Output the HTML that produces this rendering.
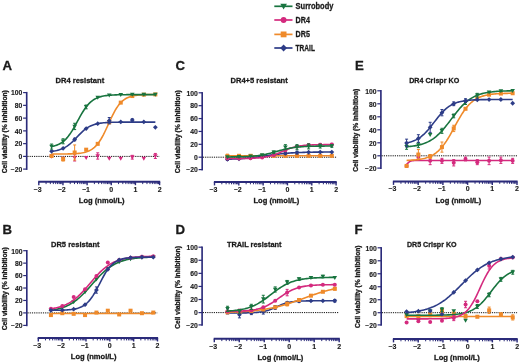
<!DOCTYPE html>
<html><head><meta charset="utf-8"><style>
html,body{margin:0;padding:0;background:#fff;overflow:hidden;width:520px;height:362px;}
svg{display:block;will-change:transform;filter:blur(0.3px);}
text{font-family:"Liberation Sans", sans-serif;font-weight:bold;fill:#1a1a1a;stroke:#1a1a1a;stroke-width:0.3px;}
</style></head><body>
<svg width="520" height="362" viewBox="0 0 520 362">
<rect width="520" height="362" fill="#fff"/>
<line x1="274.3" y1="6.3" x2="292.5" y2="6.3" stroke="#18743f" stroke-width="1.7"/>
<path d="M280.27,3.69L286.94,3.69L283.60,9.49Z" fill="#18743f"/>
<text x="295.60" y="8.50" font-size="8.3" text-anchor="start" textLength="37.8" lengthAdjust="spacingAndGlyphs" >Surrobody</text>
<line x1="274.3" y1="20.0" x2="292.5" y2="20.0" stroke="#d42a7e" stroke-width="1.7"/>
<circle cx="283.60" cy="20.00" r="2.90" fill="#d42a7e"/>
<text x="295.60" y="22.60" font-size="8.3" text-anchor="start" textLength="14.3" lengthAdjust="spacingAndGlyphs" >DR4</text>
<line x1="274.3" y1="34.4" x2="292.5" y2="34.4" stroke="#ef8a2a" stroke-width="1.7"/>
<rect x="280.70" y="31.50" width="5.80" height="5.80" fill="#ef8a2a"/>
<text x="295.60" y="36.90" font-size="8.3" text-anchor="start" textLength="14.3" lengthAdjust="spacingAndGlyphs" >DR5</text>
<line x1="274.3" y1="48.0" x2="292.5" y2="48.0" stroke="#2d3c87" stroke-width="1.7"/>
<path d="M283.60,44.52L287.08,48.00L283.60,51.48L280.12,48.00Z" fill="#2d3c87"/>
<text x="295.60" y="51.00" font-size="8.3" text-anchor="start" textLength="19.3" lengthAdjust="spacingAndGlyphs" >TRAIL</text>
<text x="2.60" y="69.90" font-size="13.2" text-anchor="start" font-weight="bold">A</text>
<text x="55.50" y="82.80" font-size="8.1" text-anchor="start" textLength="48.7" lengthAdjust="spacingAndGlyphs" >DR4 resistant</text>
<text x="0" y="0" font-size="7" text-anchor="middle" textLength="83" lengthAdjust="spacingAndGlyphs" transform="translate(6.60,131.70) rotate(-90)">Cell viability (% inhibition)</text>
<line x1="26.7" y1="91.90" x2="26.7" y2="169.90" stroke="#2b2b7a" stroke-width="1.65"/>
<line x1="23.10" y1="169.10" x2="26.7" y2="169.10" stroke="#2b2b7a" stroke-width="1.2"/>
<text x="22.40" y="171.90" font-size="6.8" text-anchor="end" style="stroke-width:0.12px">&#8722;20</text>
<line x1="23.10" y1="156.40" x2="26.7" y2="156.40" stroke="#2b2b7a" stroke-width="1.2"/>
<text x="22.40" y="159.20" font-size="6.8" text-anchor="end" style="stroke-width:0.12px">0</text>
<line x1="23.10" y1="143.64" x2="26.7" y2="143.64" stroke="#2b2b7a" stroke-width="1.2"/>
<text x="22.40" y="146.44" font-size="6.8" text-anchor="end" style="stroke-width:0.12px">20</text>
<line x1="23.10" y1="130.88" x2="26.7" y2="130.88" stroke="#2b2b7a" stroke-width="1.2"/>
<text x="22.40" y="133.68" font-size="6.8" text-anchor="end" style="stroke-width:0.12px">40</text>
<line x1="23.10" y1="118.12" x2="26.7" y2="118.12" stroke="#2b2b7a" stroke-width="1.2"/>
<text x="22.40" y="120.92" font-size="6.8" text-anchor="end" style="stroke-width:0.12px">60</text>
<line x1="23.10" y1="105.36" x2="26.7" y2="105.36" stroke="#2b2b7a" stroke-width="1.2"/>
<text x="22.40" y="108.16" font-size="6.8" text-anchor="end" style="stroke-width:0.12px">80</text>
<line x1="23.10" y1="92.60" x2="26.7" y2="92.60" stroke="#2b2b7a" stroke-width="1.2"/>
<text x="22.40" y="95.40" font-size="6.8" text-anchor="end" style="stroke-width:0.12px">100</text>
<line x1="38.20" y1="181.8" x2="160.20" y2="181.8" stroke="#2b2b7a" stroke-width="2.0"/>
<line x1="46.07" y1="181.8" x2="46.07" y2="184.10" stroke="#2b2b7a" stroke-width="1.0"/>
<line x1="50.33" y1="181.8" x2="50.33" y2="184.10" stroke="#2b2b7a" stroke-width="1.0"/>
<line x1="53.35" y1="181.8" x2="53.35" y2="184.10" stroke="#2b2b7a" stroke-width="1.0"/>
<line x1="55.69" y1="181.8" x2="55.69" y2="184.10" stroke="#2b2b7a" stroke-width="1.0"/>
<line x1="57.60" y1="181.8" x2="57.60" y2="184.10" stroke="#2b2b7a" stroke-width="1.0"/>
<line x1="59.22" y1="181.8" x2="59.22" y2="184.10" stroke="#2b2b7a" stroke-width="1.0"/>
<line x1="60.62" y1="181.8" x2="60.62" y2="184.10" stroke="#2b2b7a" stroke-width="1.0"/>
<line x1="61.85" y1="181.8" x2="61.85" y2="184.10" stroke="#2b2b7a" stroke-width="1.0"/>
<line x1="70.23" y1="181.8" x2="70.23" y2="184.10" stroke="#2b2b7a" stroke-width="1.0"/>
<line x1="74.49" y1="181.8" x2="74.49" y2="184.10" stroke="#2b2b7a" stroke-width="1.0"/>
<line x1="77.51" y1="181.8" x2="77.51" y2="184.10" stroke="#2b2b7a" stroke-width="1.0"/>
<line x1="79.85" y1="181.8" x2="79.85" y2="184.10" stroke="#2b2b7a" stroke-width="1.0"/>
<line x1="81.76" y1="181.8" x2="81.76" y2="184.10" stroke="#2b2b7a" stroke-width="1.0"/>
<line x1="83.38" y1="181.8" x2="83.38" y2="184.10" stroke="#2b2b7a" stroke-width="1.0"/>
<line x1="84.78" y1="181.8" x2="84.78" y2="184.10" stroke="#2b2b7a" stroke-width="1.0"/>
<line x1="86.01" y1="181.8" x2="86.01" y2="184.10" stroke="#2b2b7a" stroke-width="1.0"/>
<line x1="94.39" y1="181.8" x2="94.39" y2="184.10" stroke="#2b2b7a" stroke-width="1.0"/>
<line x1="98.65" y1="181.8" x2="98.65" y2="184.10" stroke="#2b2b7a" stroke-width="1.0"/>
<line x1="101.67" y1="181.8" x2="101.67" y2="184.10" stroke="#2b2b7a" stroke-width="1.0"/>
<line x1="104.01" y1="181.8" x2="104.01" y2="184.10" stroke="#2b2b7a" stroke-width="1.0"/>
<line x1="105.92" y1="181.8" x2="105.92" y2="184.10" stroke="#2b2b7a" stroke-width="1.0"/>
<line x1="107.54" y1="181.8" x2="107.54" y2="184.10" stroke="#2b2b7a" stroke-width="1.0"/>
<line x1="108.94" y1="181.8" x2="108.94" y2="184.10" stroke="#2b2b7a" stroke-width="1.0"/>
<line x1="110.17" y1="181.8" x2="110.17" y2="184.10" stroke="#2b2b7a" stroke-width="1.0"/>
<line x1="118.55" y1="181.8" x2="118.55" y2="184.10" stroke="#2b2b7a" stroke-width="1.0"/>
<line x1="122.81" y1="181.8" x2="122.81" y2="184.10" stroke="#2b2b7a" stroke-width="1.0"/>
<line x1="125.83" y1="181.8" x2="125.83" y2="184.10" stroke="#2b2b7a" stroke-width="1.0"/>
<line x1="128.17" y1="181.8" x2="128.17" y2="184.10" stroke="#2b2b7a" stroke-width="1.0"/>
<line x1="130.08" y1="181.8" x2="130.08" y2="184.10" stroke="#2b2b7a" stroke-width="1.0"/>
<line x1="131.70" y1="181.8" x2="131.70" y2="184.10" stroke="#2b2b7a" stroke-width="1.0"/>
<line x1="133.10" y1="181.8" x2="133.10" y2="184.10" stroke="#2b2b7a" stroke-width="1.0"/>
<line x1="134.33" y1="181.8" x2="134.33" y2="184.10" stroke="#2b2b7a" stroke-width="1.0"/>
<line x1="142.71" y1="181.8" x2="142.71" y2="184.10" stroke="#2b2b7a" stroke-width="1.0"/>
<line x1="146.97" y1="181.8" x2="146.97" y2="184.10" stroke="#2b2b7a" stroke-width="1.0"/>
<line x1="149.99" y1="181.8" x2="149.99" y2="184.10" stroke="#2b2b7a" stroke-width="1.0"/>
<line x1="152.33" y1="181.8" x2="152.33" y2="184.10" stroke="#2b2b7a" stroke-width="1.0"/>
<line x1="154.24" y1="181.8" x2="154.24" y2="184.10" stroke="#2b2b7a" stroke-width="1.0"/>
<line x1="155.86" y1="181.8" x2="155.86" y2="184.10" stroke="#2b2b7a" stroke-width="1.0"/>
<line x1="157.26" y1="181.8" x2="157.26" y2="184.10" stroke="#2b2b7a" stroke-width="1.0"/>
<line x1="158.49" y1="181.8" x2="158.49" y2="184.10" stroke="#2b2b7a" stroke-width="1.0"/>
<line x1="38.80" y1="181.8" x2="38.80" y2="185.20" stroke="#2b2b7a" stroke-width="1.4"/>
<text x="37.60" y="191.60" font-size="7.0" text-anchor="middle" style="stroke-width:0.12px">&#8722;3</text>
<line x1="62.96" y1="181.8" x2="62.96" y2="185.20" stroke="#2b2b7a" stroke-width="1.4"/>
<text x="61.76" y="191.60" font-size="7.0" text-anchor="middle" style="stroke-width:0.12px">&#8722;2</text>
<line x1="87.12" y1="181.8" x2="87.12" y2="185.20" stroke="#2b2b7a" stroke-width="1.4"/>
<text x="85.92" y="191.60" font-size="7.0" text-anchor="middle" style="stroke-width:0.12px">&#8722;1</text>
<line x1="111.28" y1="181.8" x2="111.28" y2="185.20" stroke="#2b2b7a" stroke-width="1.4"/>
<text x="111.28" y="191.60" font-size="7.0" text-anchor="middle" style="stroke-width:0.12px">0</text>
<line x1="135.44" y1="181.8" x2="135.44" y2="185.20" stroke="#2b2b7a" stroke-width="1.4"/>
<text x="135.44" y="191.60" font-size="7.0" text-anchor="middle" style="stroke-width:0.12px">1</text>
<line x1="159.60" y1="181.8" x2="159.60" y2="185.20" stroke="#2b2b7a" stroke-width="1.4"/>
<text x="159.60" y="191.60" font-size="7.0" text-anchor="middle" style="stroke-width:0.12px">2</text>
<text x="78.80" y="202.90" font-size="7.5" text-anchor="start" textLength="45.8" lengthAdjust="spacingAndGlyphs" >Log (nmol/L)</text>
<line x1="27.40" y1="156.40" x2="159.60" y2="156.40" stroke="#111" stroke-width="1.0" stroke-dasharray="1.2,1.0"/>
<path d="M49.30,154.80L53.90,154.80L51.60,158.80Z" fill="#d42a7e"/>
<path d="M60.83,156.69L65.43,156.69L63.13,160.69Z" fill="#d42a7e"/>
<path d="M74.65,154.71V161.01M73.15,154.71H76.15M73.15,161.01H76.15" stroke="#d42a7e" stroke-width="1.0" fill="none"/>
<path d="M72.35,156.06L76.95,156.06L74.65,160.06Z" fill="#d42a7e"/>
<path d="M83.88,156.06L88.48,156.06L86.18,160.06Z" fill="#d42a7e"/>
<path d="M97.71,152.82V159.12M96.21,152.82H99.21M96.21,159.12H99.21" stroke="#d42a7e" stroke-width="1.0" fill="none"/>
<path d="M95.41,154.17L100.01,154.17L97.71,158.17Z" fill="#d42a7e"/>
<path d="M106.94,156.69L111.54,156.69L109.24,160.69Z" fill="#d42a7e"/>
<path d="M118.46,156.69L123.06,156.69L120.76,160.69Z" fill="#d42a7e"/>
<path d="M132.29,155.34V159.12M130.79,155.34H133.79M130.79,159.12H133.79" stroke="#d42a7e" stroke-width="1.0" fill="none"/>
<path d="M129.99,155.43L134.59,155.43L132.29,159.43Z" fill="#d42a7e"/>
<path d="M141.52,156.69L146.12,156.69L143.82,160.69Z" fill="#d42a7e"/>
<path d="M155.35,153.45V158.49M153.85,153.45H156.85M153.85,158.49H156.85" stroke="#d42a7e" stroke-width="1.0" fill="none"/>
<path d="M153.05,154.17L157.65,154.17L155.35,158.17Z" fill="#d42a7e"/>
<path d="M51.60,154.07 L52.90,154.06 L54.19,154.06 L55.49,154.06 L56.79,154.05 L58.08,154.04 L59.38,154.04 L60.68,154.03 L61.97,154.02 L63.27,154.00 L64.57,153.99 L65.87,153.97 L67.16,153.94 L68.46,153.92 L69.76,153.88 L71.05,153.84 L72.35,153.79 L73.65,153.73 L74.94,153.66 L76.24,153.57 L77.54,153.46 L78.83,153.33 L80.13,153.17 L81.43,152.99 L82.72,152.76 L84.02,152.49 L85.32,152.16 L86.61,151.78 L87.91,151.31 L89.21,150.76 L90.50,150.10 L91.80,149.33 L93.10,148.42 L94.40,147.36 L95.69,146.13 L96.99,144.72 L98.29,143.11 L99.58,141.29 L100.88,139.26 L102.18,137.02 L103.47,134.59 L104.77,132.00 L106.07,129.27 L107.36,126.46 L108.66,123.60 L109.96,120.76 L111.25,117.97 L112.55,115.30 L113.85,112.78 L115.14,110.43 L116.44,108.28 L117.74,106.34 L119.03,104.61 L120.33,103.08 L121.63,101.75 L122.93,100.60 L124.22,99.60 L125.52,98.76 L126.82,98.04 L128.11,97.43 L129.41,96.91 L130.71,96.48 L132.00,96.12 L133.30,95.82 L134.60,95.57 L135.89,95.36 L137.19,95.19 L138.49,95.05 L139.78,94.93 L141.08,94.83 L142.38,94.75 L143.67,94.68 L144.97,94.62 L146.27,94.58 L147.56,94.54 L148.86,94.51 L150.16,94.48 L151.46,94.46 L152.75,94.44 L154.05,94.43 L155.35,94.41" fill="none" stroke="#ef8a2a" stroke-width="1.6"/>
<rect x="49.60" y="153.97" width="4.00" height="4.00" fill="#ef8a2a"/>
<path d="M63.13,157.23V161.01M61.63,157.23H64.63M61.63,161.01H64.63" stroke="#ef8a2a" stroke-width="1.0" fill="none"/>
<rect x="61.13" y="157.12" width="4.00" height="4.00" fill="#ef8a2a"/>
<path d="M74.65,144.94V160.06M73.15,144.94H76.15M73.15,160.06H76.15" stroke="#ef8a2a" stroke-width="1.0" fill="none"/>
<rect x="72.65" y="150.50" width="4.00" height="4.00" fill="#ef8a2a"/>
<rect x="84.18" y="147.67" width="4.00" height="4.00" fill="#ef8a2a"/>
<rect x="95.71" y="141.85" width="4.00" height="4.00" fill="#ef8a2a"/>
<rect x="107.24" y="120.33" width="4.00" height="4.00" fill="#ef8a2a"/>
<rect x="118.76" y="100.62" width="4.00" height="4.00" fill="#ef8a2a"/>
<rect x="130.29" y="94.05" width="4.00" height="4.00" fill="#ef8a2a"/>
<rect x="141.82" y="92.67" width="4.00" height="4.00" fill="#ef8a2a"/>
<rect x="153.35" y="92.41" width="4.00" height="4.00" fill="#ef8a2a"/>
<path d="M51.60,151.29 L52.90,151.13 L54.19,150.94 L55.49,150.71 L56.79,150.45 L58.08,150.14 L59.38,149.77 L60.68,149.35 L61.97,148.85 L63.27,148.28 L64.57,147.63 L65.87,146.89 L67.16,146.06 L68.46,145.13 L69.76,144.11 L71.05,143.00 L72.35,141.80 L73.65,140.54 L74.94,139.22 L76.24,137.87 L77.54,136.51 L78.83,135.15 L80.13,133.83 L81.43,132.56 L82.72,131.36 L84.02,130.23 L85.32,129.20 L86.61,128.26 L87.91,127.41 L89.21,126.66 L90.50,126.00 L91.80,125.42 L93.10,124.92 L94.40,124.48 L95.69,124.11 L96.99,123.79 L98.29,123.52 L99.58,123.29 L100.88,123.10 L102.18,122.93 L103.47,122.79 L104.77,122.68 L106.07,122.58 L107.36,122.50 L108.66,122.43 L109.96,122.37 L111.25,122.32 L112.55,122.28 L113.85,122.25 L115.14,122.22 L116.44,122.19 L117.74,122.18 L119.03,122.16 L120.33,122.14 L121.63,122.13 L122.93,122.12 L124.22,122.12 L125.52,122.11 L126.82,122.10 L128.11,122.10 L129.41,122.10 L130.71,122.09 L132.00,122.09 L133.30,122.09 L134.60,122.09 L135.89,122.08 L137.19,122.08 L138.49,122.08 L139.78,122.08 L141.08,122.08 L142.38,122.08 L143.67,122.08 L144.97,122.08 L146.27,122.08 L147.56,122.08 L148.86,122.08 L150.16,122.08 L151.46,122.08 L152.75,122.08 L154.05,122.08 L155.35,122.08" fill="none" stroke="#2d3c87" stroke-width="1.6"/>
<path d="M51.60,148.89L54.00,151.29L51.60,153.69L49.20,151.29Z" fill="#2d3c87"/>
<path d="M63.13,145.95L65.53,148.35L63.13,150.75L60.73,148.35Z" fill="#2d3c87"/>
<path d="M74.65,138.26V140.78M73.15,138.26H76.15M73.15,140.78H76.15" stroke="#2d3c87" stroke-width="1.0" fill="none"/>
<path d="M74.65,137.12L77.05,139.52L74.65,141.92L72.25,139.52Z" fill="#2d3c87"/>
<path d="M86.18,126.16L88.58,128.56L86.18,130.96L83.78,128.56Z" fill="#2d3c87"/>
<path d="M97.71,121.24L100.11,123.64L97.71,126.04L95.31,123.64Z" fill="#2d3c87"/>
<path d="M109.24,117.54V123.84M107.74,117.54H110.74M107.74,123.84H110.74" stroke="#2d3c87" stroke-width="1.0" fill="none"/>
<path d="M109.24,118.29L111.64,120.69L109.24,123.09L106.84,120.69Z" fill="#2d3c87"/>
<path d="M120.76,119.55L123.16,121.95L120.76,124.35L118.36,121.95Z" fill="#2d3c87"/>
<path d="M132.29,118.80V121.32M130.79,118.80H133.79M130.79,121.32H133.79" stroke="#2d3c87" stroke-width="1.0" fill="none"/>
<path d="M132.29,117.66L134.69,120.06L132.29,122.46L129.89,120.06Z" fill="#2d3c87"/>
<path d="M143.82,119.55L146.22,121.95L143.82,124.35L141.42,121.95Z" fill="#2d3c87"/>
<path d="M155.35,124.97L157.75,127.37L155.35,129.77L152.95,127.37Z" fill="#2d3c87"/>
<path d="M51.60,146.57 L52.90,146.30 L54.19,145.97 L55.49,145.58 L56.79,145.13 L58.08,144.59 L59.38,143.97 L60.68,143.25 L61.97,142.40 L63.27,141.44 L64.57,140.33 L65.87,139.07 L67.16,137.65 L68.46,136.07 L69.76,134.33 L71.05,132.42 L72.35,130.37 L73.65,128.19 L74.94,125.91 L76.24,123.56 L77.54,121.17 L78.83,118.79 L80.13,116.44 L81.43,114.17 L82.72,112.00 L84.02,109.97 L85.32,108.09 L86.61,106.36 L87.91,104.80 L89.21,103.40 L90.50,102.17 L91.80,101.08 L93.10,100.12 L94.40,99.30 L95.69,98.59 L96.99,97.97 L98.29,97.45 L99.58,97.01 L100.88,96.63 L102.18,96.31 L103.47,96.04 L104.77,95.81 L106.07,95.61 L107.36,95.45 L108.66,95.31 L109.96,95.20 L111.25,95.10 L112.55,95.02 L113.85,94.96 L115.14,94.90 L116.44,94.85 L117.74,94.81 L119.03,94.78 L120.33,94.75 L121.63,94.73 L122.93,94.71 L124.22,94.69 L125.52,94.68 L126.82,94.67 L128.11,94.66 L129.41,94.65 L130.71,94.64 L132.00,94.64 L133.30,94.63 L134.60,94.63 L135.89,94.62 L137.19,94.62 L138.49,94.62 L139.78,94.62 L141.08,94.62 L142.38,94.61 L143.67,94.61 L144.97,94.61 L146.27,94.61 L147.56,94.61 L148.86,94.61 L150.16,94.61 L151.46,94.61 L152.75,94.61 L154.05,94.61 L155.35,94.61" fill="none" stroke="#18743f" stroke-width="1.6"/>
<path d="M51.60,144.06V149.10M50.10,144.06H53.10M50.10,149.10H53.10" stroke="#18743f" stroke-width="1.0" fill="none"/>
<path d="M49.30,144.78L53.90,144.78L51.60,148.78Z" fill="#18743f"/>
<path d="M63.13,138.77V143.81M61.63,138.77H64.63M61.63,143.81H64.63" stroke="#18743f" stroke-width="1.0" fill="none"/>
<path d="M60.83,139.49L65.43,139.49L63.13,143.49Z" fill="#18743f"/>
<path d="M74.65,123.28V129.58M73.15,123.28H76.15M73.15,129.58H76.15" stroke="#18743f" stroke-width="1.0" fill="none"/>
<path d="M72.35,124.63L76.95,124.63L74.65,128.63Z" fill="#18743f"/>
<path d="M86.18,105.03V108.81M84.68,105.03H87.68M84.68,108.81H87.68" stroke="#18743f" stroke-width="1.0" fill="none"/>
<path d="M83.88,105.12L88.48,105.12L86.18,109.12Z" fill="#18743f"/>
<path d="M95.41,95.87L100.01,95.87L97.71,99.87Z" fill="#18743f"/>
<path d="M106.94,93.46L111.54,93.46L109.24,97.46Z" fill="#18743f"/>
<path d="M118.46,92.94L123.06,92.94L120.76,96.94Z" fill="#18743f"/>
<path d="M129.99,92.84L134.59,92.84L132.29,96.84Z" fill="#18743f"/>
<path d="M141.52,92.81L146.12,92.81L143.82,96.81Z" fill="#18743f"/>
<path d="M153.05,92.81L157.65,92.81L155.35,96.81Z" fill="#18743f"/>
<text x="175.60" y="70.10" font-size="13.2" text-anchor="start" font-weight="bold">C</text>
<text x="230.50" y="82.90" font-size="8.1" text-anchor="start" textLength="57.2" lengthAdjust="spacingAndGlyphs" >DR4+5 resistant</text>
<text x="0" y="0" font-size="7" text-anchor="middle" textLength="83" lengthAdjust="spacingAndGlyphs" transform="translate(180.30,131.75) rotate(-90)">Cell viability (% inhibition)</text>
<line x1="202.2" y1="92.10" x2="202.2" y2="170.40" stroke="#2b2b7a" stroke-width="1.65"/>
<line x1="198.60" y1="169.60" x2="202.2" y2="169.60" stroke="#2b2b7a" stroke-width="1.2"/>
<text x="197.90" y="172.40" font-size="6.8" text-anchor="end" style="stroke-width:0.12px">&#8722;20</text>
<line x1="198.60" y1="157.20" x2="202.2" y2="157.20" stroke="#2b2b7a" stroke-width="1.2"/>
<text x="197.90" y="160.00" font-size="6.8" text-anchor="end" style="stroke-width:0.12px">0</text>
<line x1="198.60" y1="144.32" x2="202.2" y2="144.32" stroke="#2b2b7a" stroke-width="1.2"/>
<text x="197.90" y="147.12" font-size="6.8" text-anchor="end" style="stroke-width:0.12px">20</text>
<line x1="198.60" y1="131.44" x2="202.2" y2="131.44" stroke="#2b2b7a" stroke-width="1.2"/>
<text x="197.90" y="134.24" font-size="6.8" text-anchor="end" style="stroke-width:0.12px">40</text>
<line x1="198.60" y1="118.56" x2="202.2" y2="118.56" stroke="#2b2b7a" stroke-width="1.2"/>
<text x="197.90" y="121.36" font-size="6.8" text-anchor="end" style="stroke-width:0.12px">60</text>
<line x1="198.60" y1="105.68" x2="202.2" y2="105.68" stroke="#2b2b7a" stroke-width="1.2"/>
<text x="197.90" y="108.48" font-size="6.8" text-anchor="end" style="stroke-width:0.12px">80</text>
<line x1="198.60" y1="92.80" x2="202.2" y2="92.80" stroke="#2b2b7a" stroke-width="1.2"/>
<text x="197.90" y="95.60" font-size="6.8" text-anchor="end" style="stroke-width:0.12px">100</text>
<line x1="213.90" y1="182.0" x2="336.70" y2="182.0" stroke="#2b2b7a" stroke-width="2.0"/>
<line x1="221.82" y1="182.0" x2="221.82" y2="184.30" stroke="#2b2b7a" stroke-width="1.0"/>
<line x1="226.10" y1="182.0" x2="226.10" y2="184.30" stroke="#2b2b7a" stroke-width="1.0"/>
<line x1="229.14" y1="182.0" x2="229.14" y2="184.30" stroke="#2b2b7a" stroke-width="1.0"/>
<line x1="231.50" y1="182.0" x2="231.50" y2="184.30" stroke="#2b2b7a" stroke-width="1.0"/>
<line x1="233.42" y1="182.0" x2="233.42" y2="184.30" stroke="#2b2b7a" stroke-width="1.0"/>
<line x1="235.05" y1="182.0" x2="235.05" y2="184.30" stroke="#2b2b7a" stroke-width="1.0"/>
<line x1="236.46" y1="182.0" x2="236.46" y2="184.30" stroke="#2b2b7a" stroke-width="1.0"/>
<line x1="237.71" y1="182.0" x2="237.71" y2="184.30" stroke="#2b2b7a" stroke-width="1.0"/>
<line x1="246.14" y1="182.0" x2="246.14" y2="184.30" stroke="#2b2b7a" stroke-width="1.0"/>
<line x1="250.42" y1="182.0" x2="250.42" y2="184.30" stroke="#2b2b7a" stroke-width="1.0"/>
<line x1="253.46" y1="182.0" x2="253.46" y2="184.30" stroke="#2b2b7a" stroke-width="1.0"/>
<line x1="255.82" y1="182.0" x2="255.82" y2="184.30" stroke="#2b2b7a" stroke-width="1.0"/>
<line x1="257.74" y1="182.0" x2="257.74" y2="184.30" stroke="#2b2b7a" stroke-width="1.0"/>
<line x1="259.37" y1="182.0" x2="259.37" y2="184.30" stroke="#2b2b7a" stroke-width="1.0"/>
<line x1="260.78" y1="182.0" x2="260.78" y2="184.30" stroke="#2b2b7a" stroke-width="1.0"/>
<line x1="262.03" y1="182.0" x2="262.03" y2="184.30" stroke="#2b2b7a" stroke-width="1.0"/>
<line x1="270.46" y1="182.0" x2="270.46" y2="184.30" stroke="#2b2b7a" stroke-width="1.0"/>
<line x1="274.74" y1="182.0" x2="274.74" y2="184.30" stroke="#2b2b7a" stroke-width="1.0"/>
<line x1="277.78" y1="182.0" x2="277.78" y2="184.30" stroke="#2b2b7a" stroke-width="1.0"/>
<line x1="280.14" y1="182.0" x2="280.14" y2="184.30" stroke="#2b2b7a" stroke-width="1.0"/>
<line x1="282.06" y1="182.0" x2="282.06" y2="184.30" stroke="#2b2b7a" stroke-width="1.0"/>
<line x1="283.69" y1="182.0" x2="283.69" y2="184.30" stroke="#2b2b7a" stroke-width="1.0"/>
<line x1="285.10" y1="182.0" x2="285.10" y2="184.30" stroke="#2b2b7a" stroke-width="1.0"/>
<line x1="286.35" y1="182.0" x2="286.35" y2="184.30" stroke="#2b2b7a" stroke-width="1.0"/>
<line x1="294.78" y1="182.0" x2="294.78" y2="184.30" stroke="#2b2b7a" stroke-width="1.0"/>
<line x1="299.06" y1="182.0" x2="299.06" y2="184.30" stroke="#2b2b7a" stroke-width="1.0"/>
<line x1="302.10" y1="182.0" x2="302.10" y2="184.30" stroke="#2b2b7a" stroke-width="1.0"/>
<line x1="304.46" y1="182.0" x2="304.46" y2="184.30" stroke="#2b2b7a" stroke-width="1.0"/>
<line x1="306.38" y1="182.0" x2="306.38" y2="184.30" stroke="#2b2b7a" stroke-width="1.0"/>
<line x1="308.01" y1="182.0" x2="308.01" y2="184.30" stroke="#2b2b7a" stroke-width="1.0"/>
<line x1="309.42" y1="182.0" x2="309.42" y2="184.30" stroke="#2b2b7a" stroke-width="1.0"/>
<line x1="310.67" y1="182.0" x2="310.67" y2="184.30" stroke="#2b2b7a" stroke-width="1.0"/>
<line x1="319.10" y1="182.0" x2="319.10" y2="184.30" stroke="#2b2b7a" stroke-width="1.0"/>
<line x1="323.38" y1="182.0" x2="323.38" y2="184.30" stroke="#2b2b7a" stroke-width="1.0"/>
<line x1="326.42" y1="182.0" x2="326.42" y2="184.30" stroke="#2b2b7a" stroke-width="1.0"/>
<line x1="328.78" y1="182.0" x2="328.78" y2="184.30" stroke="#2b2b7a" stroke-width="1.0"/>
<line x1="330.70" y1="182.0" x2="330.70" y2="184.30" stroke="#2b2b7a" stroke-width="1.0"/>
<line x1="332.33" y1="182.0" x2="332.33" y2="184.30" stroke="#2b2b7a" stroke-width="1.0"/>
<line x1="333.74" y1="182.0" x2="333.74" y2="184.30" stroke="#2b2b7a" stroke-width="1.0"/>
<line x1="334.99" y1="182.0" x2="334.99" y2="184.30" stroke="#2b2b7a" stroke-width="1.0"/>
<line x1="214.50" y1="182.0" x2="214.50" y2="185.40" stroke="#2b2b7a" stroke-width="1.4"/>
<text x="213.30" y="191.80" font-size="7.0" text-anchor="middle" style="stroke-width:0.12px">&#8722;3</text>
<line x1="238.82" y1="182.0" x2="238.82" y2="185.40" stroke="#2b2b7a" stroke-width="1.4"/>
<text x="237.62" y="191.80" font-size="7.0" text-anchor="middle" style="stroke-width:0.12px">&#8722;2</text>
<line x1="263.14" y1="182.0" x2="263.14" y2="185.40" stroke="#2b2b7a" stroke-width="1.4"/>
<text x="261.94" y="191.80" font-size="7.0" text-anchor="middle" style="stroke-width:0.12px">&#8722;1</text>
<line x1="287.46" y1="182.0" x2="287.46" y2="185.40" stroke="#2b2b7a" stroke-width="1.4"/>
<text x="287.46" y="191.80" font-size="7.0" text-anchor="middle" style="stroke-width:0.12px">0</text>
<line x1="311.78" y1="182.0" x2="311.78" y2="185.40" stroke="#2b2b7a" stroke-width="1.4"/>
<text x="311.78" y="191.80" font-size="7.0" text-anchor="middle" style="stroke-width:0.12px">1</text>
<line x1="336.10" y1="182.0" x2="336.10" y2="185.40" stroke="#2b2b7a" stroke-width="1.4"/>
<text x="336.10" y="191.80" font-size="7.0" text-anchor="middle" style="stroke-width:0.12px">2</text>
<text x="253.50" y="202.80" font-size="7.5" text-anchor="start" textLength="45.7" lengthAdjust="spacingAndGlyphs" >Log (nmol/L)</text>
<line x1="202.90" y1="157.20" x2="336.10" y2="157.20" stroke="#111" stroke-width="1.0" stroke-dasharray="1.2,1.0"/>
<path d="M227.39,155.81 L228.69,155.81 L230.00,155.81 L231.30,155.81 L232.61,155.81 L233.91,155.81 L235.22,155.81 L236.52,155.81 L237.83,155.81 L239.13,155.81 L240.44,155.81 L241.74,155.81 L243.05,155.81 L244.36,155.81 L245.66,155.81 L246.97,155.81 L248.27,155.81 L249.58,155.81 L250.88,155.81 L252.19,155.81 L253.49,155.81 L254.80,155.81 L256.10,155.81 L257.41,155.81 L258.71,155.81 L260.02,155.81 L261.33,155.81 L262.63,155.81 L263.94,155.81 L265.24,155.81 L266.55,155.81 L267.85,155.81 L269.16,155.81 L270.46,155.81 L271.77,155.81 L273.07,155.81 L274.38,155.81 L275.69,155.81 L276.99,155.81 L278.30,155.81 L279.60,155.81 L280.91,155.81 L282.21,155.81 L283.52,155.81 L284.82,155.81 L286.13,155.81 L287.43,155.81 L288.74,155.81 L290.04,155.81 L291.35,155.81 L292.66,155.81 L293.96,155.81 L295.27,155.81 L296.57,155.81 L297.88,155.81 L299.18,155.81 L300.49,155.81 L301.79,155.81 L303.10,155.81 L304.40,155.81 L305.71,155.81 L307.01,155.81 L308.32,155.81 L309.63,155.81 L310.93,155.81 L312.24,155.81 L313.54,155.81 L314.85,155.81 L316.15,155.81 L317.46,155.81 L318.76,155.81 L320.07,155.81 L321.37,155.81 L322.68,155.81 L323.99,155.81 L325.29,155.81 L326.60,155.81 L327.90,155.81 L329.21,155.81 L330.51,155.81 L331.82,155.81" fill="none" stroke="#ef8a2a" stroke-width="1.6"/>
<path d="M227.39,154.15V157.97M225.89,154.15H228.89M225.89,157.97H228.89" stroke="#ef8a2a" stroke-width="1.0" fill="none"/>
<rect x="225.39" y="154.06" width="4.00" height="4.00" fill="#ef8a2a"/>
<rect x="236.99" y="153.81" width="4.00" height="4.00" fill="#ef8a2a"/>
<rect x="248.59" y="153.81" width="4.00" height="4.00" fill="#ef8a2a"/>
<rect x="260.20" y="153.81" width="4.00" height="4.00" fill="#ef8a2a"/>
<rect x="271.80" y="153.81" width="4.00" height="4.00" fill="#ef8a2a"/>
<rect x="283.40" y="153.81" width="4.00" height="4.00" fill="#ef8a2a"/>
<rect x="295.01" y="153.81" width="4.00" height="4.00" fill="#ef8a2a"/>
<rect x="306.61" y="153.81" width="4.00" height="4.00" fill="#ef8a2a"/>
<rect x="318.21" y="153.81" width="4.00" height="4.00" fill="#ef8a2a"/>
<rect x="329.82" y="153.81" width="4.00" height="4.00" fill="#ef8a2a"/>
<path d="M227.39,159.23 L228.69,159.19 L230.00,159.15 L231.30,159.11 L232.61,159.07 L233.91,159.02 L235.22,158.96 L236.52,158.90 L237.83,158.84 L239.13,158.76 L240.44,158.69 L241.74,158.61 L243.05,158.52 L244.36,158.42 L245.66,158.32 L246.97,158.21 L248.27,158.09 L249.58,157.96 L250.88,157.83 L252.19,157.69 L253.49,157.54 L254.80,157.38 L256.10,157.22 L257.41,157.05 L258.71,156.87 L260.02,156.69 L261.33,156.51 L262.63,156.32 L263.94,156.13 L265.24,155.93 L266.55,155.74 L267.85,155.55 L269.16,155.35 L270.46,155.16 L271.77,154.97 L273.07,154.79 L274.38,154.61 L275.69,154.44 L276.99,154.27 L278.30,154.11 L279.60,153.96 L280.91,153.81 L282.21,153.67 L283.52,153.54 L284.82,153.42 L286.13,153.30 L287.43,153.20 L288.74,153.10 L290.04,153.00 L291.35,152.92 L292.66,152.83 L293.96,152.76 L295.27,152.69 L296.57,152.63 L297.88,152.57 L299.18,152.52 L300.49,152.47 L301.79,152.43 L303.10,152.38 L304.40,152.35 L305.71,152.31 L307.01,152.28 L308.32,152.26 L309.63,152.23 L310.93,152.21 L312.24,152.19 L313.54,152.17 L314.85,152.15 L316.15,152.13 L317.46,152.12 L318.76,152.11 L320.07,152.10 L321.37,152.08 L322.68,152.08 L323.99,152.07 L325.29,152.06 L326.60,152.05 L327.90,152.05 L329.21,152.04 L330.51,152.03 L331.82,152.03" fill="none" stroke="#2d3c87" stroke-width="1.6"/>
<path d="M227.39,157.95V160.50M225.89,157.95H228.89M225.89,160.50H228.89" stroke="#2d3c87" stroke-width="1.0" fill="none"/>
<path d="M227.39,156.83L229.79,159.23L227.39,161.63L224.99,159.23Z" fill="#2d3c87"/>
<path d="M238.99,156.37L241.39,158.77L238.99,161.17L236.59,158.77Z" fill="#2d3c87"/>
<path d="M250.59,155.46L252.99,157.86L250.59,160.26L248.19,157.86Z" fill="#2d3c87"/>
<path d="M262.20,153.98L264.60,156.38L262.20,158.78L259.80,156.38Z" fill="#2d3c87"/>
<path d="M273.80,152.29L276.20,154.69L273.80,157.09L271.40,154.69Z" fill="#2d3c87"/>
<path d="M285.40,152.09V154.64M283.90,152.09H286.90M283.90,154.64H286.90" stroke="#2d3c87" stroke-width="1.0" fill="none"/>
<path d="M285.40,150.97L287.80,153.37L285.40,155.77L283.00,153.37Z" fill="#2d3c87"/>
<path d="M297.01,151.34V153.88M295.51,151.34H298.51M295.51,153.88H298.51" stroke="#2d3c87" stroke-width="1.0" fill="none"/>
<path d="M297.01,150.21L299.41,152.61L297.01,155.01L294.61,152.61Z" fill="#2d3c87"/>
<path d="M308.61,149.85L311.01,152.25L308.61,154.65L306.21,152.25Z" fill="#2d3c87"/>
<path d="M320.21,149.69L322.61,152.09L320.21,154.49L317.81,152.09Z" fill="#2d3c87"/>
<path d="M331.82,149.63L334.22,152.03L331.82,154.43L329.42,152.03Z" fill="#2d3c87"/>
<path d="M227.39,158.53 L228.69,158.53 L230.00,158.53 L231.30,158.52 L232.61,158.52 L233.91,158.52 L235.22,158.51 L236.52,158.50 L237.83,158.49 L239.13,158.49 L240.44,158.47 L241.74,158.46 L243.05,158.45 L244.36,158.43 L245.66,158.41 L246.97,158.38 L248.27,158.35 L249.58,158.32 L250.88,158.28 L252.19,158.23 L253.49,158.18 L254.80,158.11 L256.10,158.04 L257.41,157.95 L258.71,157.85 L260.02,157.73 L261.33,157.60 L262.63,157.44 L263.94,157.26 L265.24,157.06 L266.55,156.82 L267.85,156.56 L269.16,156.26 L270.46,155.93 L271.77,155.56 L273.07,155.16 L274.38,154.72 L275.69,154.25 L276.99,153.75 L278.30,153.22 L279.60,152.66 L280.91,152.10 L282.21,151.53 L283.52,150.96 L284.82,150.39 L286.13,149.84 L287.43,149.32 L288.74,148.82 L290.04,148.35 L291.35,147.92 L292.66,147.52 L293.96,147.16 L295.27,146.83 L296.57,146.54 L297.88,146.28 L299.18,146.05 L300.49,145.85 L301.79,145.68 L303.10,145.52 L304.40,145.39 L305.71,145.28 L307.01,145.18 L308.32,145.09 L309.63,145.02 L310.93,144.96 L312.24,144.90 L313.54,144.86 L314.85,144.82 L316.15,144.79 L317.46,144.76 L318.76,144.73 L320.07,144.71 L321.37,144.70 L322.68,144.68 L323.99,144.67 L325.29,144.66 L326.60,144.65 L327.90,144.64 L329.21,144.63 L330.51,144.63 L331.82,144.62" fill="none" stroke="#d42a7e" stroke-width="1.6"/>
<circle cx="227.39" cy="158.53" r="2.00" fill="#d42a7e"/>
<circle cx="238.99" cy="158.49" r="2.00" fill="#d42a7e"/>
<circle cx="250.59" cy="158.29" r="2.00" fill="#d42a7e"/>
<circle cx="262.20" cy="157.50" r="2.00" fill="#d42a7e"/>
<circle cx="273.80" cy="154.92" r="2.00" fill="#d42a7e"/>
<circle cx="285.40" cy="150.15" r="2.00" fill="#d42a7e"/>
<circle cx="297.01" cy="146.45" r="2.00" fill="#d42a7e"/>
<path d="M308.61,143.80V146.35M307.11,143.80H310.11M307.11,146.35H310.11" stroke="#d42a7e" stroke-width="1.0" fill="none"/>
<circle cx="308.61" cy="145.08" r="2.00" fill="#d42a7e"/>
<path d="M320.21,143.44V145.99M318.71,143.44H321.71M318.71,145.99H321.71" stroke="#d42a7e" stroke-width="1.0" fill="none"/>
<circle cx="320.21" cy="144.71" r="2.00" fill="#d42a7e"/>
<path d="M331.82,143.35V145.90M330.32,143.35H333.32M330.32,145.90H333.32" stroke="#d42a7e" stroke-width="1.0" fill="none"/>
<circle cx="331.82" cy="144.62" r="2.00" fill="#d42a7e"/>
<path d="M227.39,156.95 L228.69,156.94 L230.00,156.93 L231.30,156.92 L232.61,156.91 L233.91,156.89 L235.22,156.87 L236.52,156.85 L237.83,156.83 L239.13,156.80 L240.44,156.77 L241.74,156.73 L243.05,156.69 L244.36,156.64 L245.66,156.59 L246.97,156.53 L248.27,156.47 L249.58,156.39 L250.88,156.30 L252.19,156.21 L253.49,156.10 L254.80,155.98 L256.10,155.84 L257.41,155.69 L258.71,155.53 L260.02,155.34 L261.33,155.14 L262.63,154.92 L263.94,154.68 L265.24,154.42 L266.55,154.14 L267.85,153.84 L269.16,153.52 L270.46,153.19 L271.77,152.84 L273.07,152.49 L274.38,152.12 L275.69,151.75 L276.99,151.37 L278.30,151.00 L279.60,150.63 L280.91,150.27 L282.21,149.92 L283.52,149.58 L284.82,149.26 L286.13,148.96 L287.43,148.67 L288.74,148.41 L290.04,148.16 L291.35,147.94 L292.66,147.73 L293.96,147.54 L295.27,147.37 L296.57,147.21 L297.88,147.07 L299.18,146.95 L300.49,146.84 L301.79,146.74 L303.10,146.65 L304.40,146.57 L305.71,146.50 L307.01,146.44 L308.32,146.39 L309.63,146.34 L310.93,146.30 L312.24,146.26 L313.54,146.23 L314.85,146.20 L316.15,146.17 L317.46,146.15 L318.76,146.13 L320.07,146.12 L321.37,146.10 L322.68,146.09 L323.99,146.08 L325.29,146.07 L326.60,146.06 L327.90,146.05 L329.21,146.04 L330.51,146.04 L331.82,146.03" fill="none" stroke="#18743f" stroke-width="1.6"/>
<path d="M225.09,155.15L229.69,155.15L227.39,159.15Z" fill="#18743f"/>
<path d="M236.69,155.00L241.29,155.00L238.99,159.00Z" fill="#18743f"/>
<path d="M248.29,154.52L252.89,154.52L250.59,158.52Z" fill="#18743f"/>
<path d="M259.90,153.19L264.50,153.19L262.20,157.19Z" fill="#18743f"/>
<path d="M273.80,151.01V153.56M272.30,151.01H275.30M272.30,153.56H275.30" stroke="#18743f" stroke-width="1.0" fill="none"/>
<path d="M271.50,150.48L276.10,150.48L273.80,154.48Z" fill="#18743f"/>
<path d="M285.40,144.67V149.76M283.90,144.67H286.90M283.90,149.76H286.90" stroke="#18743f" stroke-width="1.0" fill="none"/>
<path d="M283.10,145.42L287.70,145.42L285.40,149.42Z" fill="#18743f"/>
<path d="M297.01,144.62V149.71M295.51,144.62H298.51M295.51,149.71H298.51" stroke="#18743f" stroke-width="1.0" fill="none"/>
<path d="M294.71,145.36L299.31,145.36L297.01,149.36Z" fill="#18743f"/>
<path d="M308.61,143.83V148.92M307.11,143.83H310.11M307.11,148.92H310.11" stroke="#18743f" stroke-width="1.0" fill="none"/>
<path d="M306.31,144.57L310.91,144.57L308.61,148.57Z" fill="#18743f"/>
<path d="M320.21,144.20V148.02M318.71,144.20H321.71M318.71,148.02H321.71" stroke="#18743f" stroke-width="1.0" fill="none"/>
<path d="M317.91,144.31L322.51,144.31L320.21,148.31Z" fill="#18743f"/>
<path d="M331.82,144.76V147.31M330.32,144.76H333.32M330.32,147.31H333.32" stroke="#18743f" stroke-width="1.0" fill="none"/>
<path d="M329.52,144.23L334.12,144.23L331.82,148.23Z" fill="#18743f"/>
<text x="355.00" y="69.90" font-size="13.2" text-anchor="start" font-weight="bold">E</text>
<text x="409.20" y="82.90" font-size="8.1" text-anchor="start" textLength="50" lengthAdjust="spacingAndGlyphs" >DR4 Crispr KO</text>
<text x="0" y="0" font-size="7" text-anchor="middle" textLength="83" lengthAdjust="spacingAndGlyphs" transform="translate(358.20,130.30) rotate(-90)">Cell viability (% inhibition)</text>
<line x1="380.9" y1="90.10" x2="380.9" y2="168.90" stroke="#2b2b7a" stroke-width="1.65"/>
<line x1="377.30" y1="168.10" x2="380.9" y2="168.10" stroke="#2b2b7a" stroke-width="1.2"/>
<text x="376.60" y="170.90" font-size="6.8" text-anchor="end" style="stroke-width:0.12px">&#8722;20</text>
<line x1="377.30" y1="155.80" x2="380.9" y2="155.80" stroke="#2b2b7a" stroke-width="1.2"/>
<text x="376.60" y="158.60" font-size="6.8" text-anchor="end" style="stroke-width:0.12px">0</text>
<line x1="377.30" y1="142.80" x2="380.9" y2="142.80" stroke="#2b2b7a" stroke-width="1.2"/>
<text x="376.60" y="145.60" font-size="6.8" text-anchor="end" style="stroke-width:0.12px">20</text>
<line x1="377.30" y1="129.80" x2="380.9" y2="129.80" stroke="#2b2b7a" stroke-width="1.2"/>
<text x="376.60" y="132.60" font-size="6.8" text-anchor="end" style="stroke-width:0.12px">40</text>
<line x1="377.30" y1="116.80" x2="380.9" y2="116.80" stroke="#2b2b7a" stroke-width="1.2"/>
<text x="376.60" y="119.60" font-size="6.8" text-anchor="end" style="stroke-width:0.12px">60</text>
<line x1="377.30" y1="103.80" x2="380.9" y2="103.80" stroke="#2b2b7a" stroke-width="1.2"/>
<text x="376.60" y="106.60" font-size="6.8" text-anchor="end" style="stroke-width:0.12px">80</text>
<line x1="377.30" y1="90.80" x2="380.9" y2="90.80" stroke="#2b2b7a" stroke-width="1.2"/>
<text x="376.60" y="93.60" font-size="6.8" text-anchor="end" style="stroke-width:0.12px">100</text>
<line x1="392.90" y1="181.5" x2="517.60" y2="181.5" stroke="#2b2b7a" stroke-width="2.0"/>
<line x1="400.94" y1="181.5" x2="400.94" y2="183.80" stroke="#2b2b7a" stroke-width="1.0"/>
<line x1="405.28" y1="181.5" x2="405.28" y2="183.80" stroke="#2b2b7a" stroke-width="1.0"/>
<line x1="408.37" y1="181.5" x2="408.37" y2="183.80" stroke="#2b2b7a" stroke-width="1.0"/>
<line x1="410.76" y1="181.5" x2="410.76" y2="183.80" stroke="#2b2b7a" stroke-width="1.0"/>
<line x1="412.72" y1="181.5" x2="412.72" y2="183.80" stroke="#2b2b7a" stroke-width="1.0"/>
<line x1="414.37" y1="181.5" x2="414.37" y2="183.80" stroke="#2b2b7a" stroke-width="1.0"/>
<line x1="415.81" y1="181.5" x2="415.81" y2="183.80" stroke="#2b2b7a" stroke-width="1.0"/>
<line x1="417.07" y1="181.5" x2="417.07" y2="183.80" stroke="#2b2b7a" stroke-width="1.0"/>
<line x1="425.64" y1="181.5" x2="425.64" y2="183.80" stroke="#2b2b7a" stroke-width="1.0"/>
<line x1="429.98" y1="181.5" x2="429.98" y2="183.80" stroke="#2b2b7a" stroke-width="1.0"/>
<line x1="433.07" y1="181.5" x2="433.07" y2="183.80" stroke="#2b2b7a" stroke-width="1.0"/>
<line x1="435.46" y1="181.5" x2="435.46" y2="183.80" stroke="#2b2b7a" stroke-width="1.0"/>
<line x1="437.42" y1="181.5" x2="437.42" y2="183.80" stroke="#2b2b7a" stroke-width="1.0"/>
<line x1="439.07" y1="181.5" x2="439.07" y2="183.80" stroke="#2b2b7a" stroke-width="1.0"/>
<line x1="440.51" y1="181.5" x2="440.51" y2="183.80" stroke="#2b2b7a" stroke-width="1.0"/>
<line x1="441.77" y1="181.5" x2="441.77" y2="183.80" stroke="#2b2b7a" stroke-width="1.0"/>
<line x1="450.34" y1="181.5" x2="450.34" y2="183.80" stroke="#2b2b7a" stroke-width="1.0"/>
<line x1="454.68" y1="181.5" x2="454.68" y2="183.80" stroke="#2b2b7a" stroke-width="1.0"/>
<line x1="457.77" y1="181.5" x2="457.77" y2="183.80" stroke="#2b2b7a" stroke-width="1.0"/>
<line x1="460.16" y1="181.5" x2="460.16" y2="183.80" stroke="#2b2b7a" stroke-width="1.0"/>
<line x1="462.12" y1="181.5" x2="462.12" y2="183.80" stroke="#2b2b7a" stroke-width="1.0"/>
<line x1="463.77" y1="181.5" x2="463.77" y2="183.80" stroke="#2b2b7a" stroke-width="1.0"/>
<line x1="465.21" y1="181.5" x2="465.21" y2="183.80" stroke="#2b2b7a" stroke-width="1.0"/>
<line x1="466.47" y1="181.5" x2="466.47" y2="183.80" stroke="#2b2b7a" stroke-width="1.0"/>
<line x1="475.04" y1="181.5" x2="475.04" y2="183.80" stroke="#2b2b7a" stroke-width="1.0"/>
<line x1="479.38" y1="181.5" x2="479.38" y2="183.80" stroke="#2b2b7a" stroke-width="1.0"/>
<line x1="482.47" y1="181.5" x2="482.47" y2="183.80" stroke="#2b2b7a" stroke-width="1.0"/>
<line x1="484.86" y1="181.5" x2="484.86" y2="183.80" stroke="#2b2b7a" stroke-width="1.0"/>
<line x1="486.82" y1="181.5" x2="486.82" y2="183.80" stroke="#2b2b7a" stroke-width="1.0"/>
<line x1="488.47" y1="181.5" x2="488.47" y2="183.80" stroke="#2b2b7a" stroke-width="1.0"/>
<line x1="489.91" y1="181.5" x2="489.91" y2="183.80" stroke="#2b2b7a" stroke-width="1.0"/>
<line x1="491.17" y1="181.5" x2="491.17" y2="183.80" stroke="#2b2b7a" stroke-width="1.0"/>
<line x1="499.74" y1="181.5" x2="499.74" y2="183.80" stroke="#2b2b7a" stroke-width="1.0"/>
<line x1="504.08" y1="181.5" x2="504.08" y2="183.80" stroke="#2b2b7a" stroke-width="1.0"/>
<line x1="507.17" y1="181.5" x2="507.17" y2="183.80" stroke="#2b2b7a" stroke-width="1.0"/>
<line x1="509.56" y1="181.5" x2="509.56" y2="183.80" stroke="#2b2b7a" stroke-width="1.0"/>
<line x1="511.52" y1="181.5" x2="511.52" y2="183.80" stroke="#2b2b7a" stroke-width="1.0"/>
<line x1="513.17" y1="181.5" x2="513.17" y2="183.80" stroke="#2b2b7a" stroke-width="1.0"/>
<line x1="514.61" y1="181.5" x2="514.61" y2="183.80" stroke="#2b2b7a" stroke-width="1.0"/>
<line x1="515.87" y1="181.5" x2="515.87" y2="183.80" stroke="#2b2b7a" stroke-width="1.0"/>
<line x1="393.50" y1="181.5" x2="393.50" y2="184.90" stroke="#2b2b7a" stroke-width="1.4"/>
<text x="392.30" y="191.30" font-size="7.0" text-anchor="middle" style="stroke-width:0.12px">&#8722;3</text>
<line x1="418.20" y1="181.5" x2="418.20" y2="184.90" stroke="#2b2b7a" stroke-width="1.4"/>
<text x="417.00" y="191.30" font-size="7.0" text-anchor="middle" style="stroke-width:0.12px">&#8722;2</text>
<line x1="442.90" y1="181.5" x2="442.90" y2="184.90" stroke="#2b2b7a" stroke-width="1.4"/>
<text x="441.70" y="191.30" font-size="7.0" text-anchor="middle" style="stroke-width:0.12px">&#8722;1</text>
<line x1="467.60" y1="181.5" x2="467.60" y2="184.90" stroke="#2b2b7a" stroke-width="1.4"/>
<text x="467.60" y="191.30" font-size="7.0" text-anchor="middle" style="stroke-width:0.12px">0</text>
<line x1="492.30" y1="181.5" x2="492.30" y2="184.90" stroke="#2b2b7a" stroke-width="1.4"/>
<text x="492.30" y="191.30" font-size="7.0" text-anchor="middle" style="stroke-width:0.12px">1</text>
<line x1="517.00" y1="181.5" x2="517.00" y2="184.90" stroke="#2b2b7a" stroke-width="1.4"/>
<text x="517.00" y="191.30" font-size="7.0" text-anchor="middle" style="stroke-width:0.12px">2</text>
<text x="435.50" y="203.20" font-size="7.5" text-anchor="start" textLength="45.7" lengthAdjust="spacingAndGlyphs" >Log (nmol/L)</text>
<line x1="381.60" y1="155.80" x2="517.00" y2="155.80" stroke="#111" stroke-width="1.0" stroke-dasharray="1.2,1.0"/>
<path d="M406.59,164.38 L407.91,163.12 L409.24,161.89 L410.56,161.11 L411.89,160.73 L413.22,160.58 L414.54,160.52 L415.87,160.50 L417.19,160.49 L418.52,160.49 L419.84,160.48 L421.17,160.48 L422.50,160.48 L423.82,160.48 L425.15,160.48 L426.47,160.48 L427.80,160.48 L429.13,160.48 L430.45,160.48 L431.78,160.48 L433.10,160.48 L434.43,160.48 L435.75,160.48 L437.08,160.48 L438.41,160.48 L439.73,160.48 L441.06,160.48 L442.38,160.48 L443.71,160.48 L445.03,160.48 L446.36,160.48 L447.69,160.48 L449.01,160.48 L450.34,160.48 L451.66,160.48 L452.99,160.48 L454.32,160.48 L455.64,160.48 L456.97,160.48 L458.29,160.48 L459.62,160.48 L460.94,160.48 L462.27,160.48 L463.60,160.48 L464.92,160.48 L466.25,160.48 L467.57,160.48 L468.90,160.48 L470.22,160.48 L471.55,160.48 L472.88,160.48 L474.20,160.48 L475.53,160.48 L476.85,160.48 L478.18,160.48 L479.51,160.48 L480.83,160.48 L482.16,160.48 L483.48,160.48 L484.81,160.48 L486.13,160.48 L487.46,160.48 L488.79,160.48 L490.11,160.48 L491.44,160.48 L492.76,160.48 L494.09,160.48 L495.42,160.48 L496.74,160.48 L498.07,160.48 L499.39,160.48 L500.72,160.48 L502.04,160.48 L503.37,160.48 L504.70,160.48 L506.02,160.48 L507.35,160.48 L508.67,160.48 L510.00,160.48 L511.32,160.48 L512.65,160.48" fill="none" stroke="#d42a7e" stroke-width="1.6"/>
<circle cx="406.59" cy="165.93" r="2.00" fill="#d42a7e"/>
<path d="M418.37,154.53V159.60M416.87,154.53H419.87M416.87,159.60H419.87" stroke="#d42a7e" stroke-width="1.0" fill="none"/>
<circle cx="418.37" cy="157.07" r="2.00" fill="#d42a7e"/>
<path d="M430.16,157.07V164.66M428.66,157.07H431.66M428.66,164.66H431.66" stroke="#d42a7e" stroke-width="1.0" fill="none"/>
<circle cx="430.16" cy="160.86" r="2.00" fill="#d42a7e"/>
<path d="M441.94,158.33V163.40M440.44,158.33H443.44M440.44,163.40H443.44" stroke="#d42a7e" stroke-width="1.0" fill="none"/>
<circle cx="441.94" cy="160.86" r="2.00" fill="#d42a7e"/>
<path d="M453.73,159.60V165.93M452.23,159.60H455.23M452.23,165.93H455.23" stroke="#d42a7e" stroke-width="1.0" fill="none"/>
<circle cx="453.73" cy="162.76" r="2.00" fill="#d42a7e"/>
<path d="M465.51,157.07V160.86M464.01,157.07H467.01M464.01,160.86H467.01" stroke="#d42a7e" stroke-width="1.0" fill="none"/>
<circle cx="465.51" cy="158.97" r="2.00" fill="#d42a7e"/>
<path d="M477.30,159.60V164.66M475.80,159.60H478.80M475.80,164.66H478.80" stroke="#d42a7e" stroke-width="1.0" fill="none"/>
<circle cx="477.30" cy="162.13" r="2.00" fill="#d42a7e"/>
<path d="M489.08,157.07V164.66M487.58,157.07H490.58M487.58,164.66H490.58" stroke="#d42a7e" stroke-width="1.0" fill="none"/>
<circle cx="489.08" cy="160.86" r="2.00" fill="#d42a7e"/>
<path d="M500.87,157.07V163.40M499.37,157.07H502.37M499.37,163.40H502.37" stroke="#d42a7e" stroke-width="1.0" fill="none"/>
<circle cx="500.87" cy="160.23" r="2.00" fill="#d42a7e"/>
<path d="M512.65,158.33V163.40M511.15,158.33H514.15M511.15,163.40H514.15" stroke="#d42a7e" stroke-width="1.0" fill="none"/>
<circle cx="512.65" cy="160.86" r="2.00" fill="#d42a7e"/>
<path d="M406.59,160.44 L407.91,160.38 L409.24,160.32 L410.56,160.24 L411.89,160.16 L413.22,160.06 L414.54,159.95 L415.87,159.82 L417.19,159.66 L418.52,159.49 L419.84,159.29 L421.17,159.06 L422.50,158.80 L423.82,158.50 L425.15,158.16 L426.47,157.76 L427.80,157.32 L429.13,156.81 L430.45,156.23 L431.78,155.57 L433.10,154.83 L434.43,153.99 L435.75,153.05 L437.08,152.00 L438.41,150.84 L439.73,149.54 L441.06,148.12 L442.38,146.56 L443.71,144.87 L445.03,143.04 L446.36,141.08 L447.69,139.01 L449.01,136.82 L450.34,134.53 L451.66,132.17 L452.99,129.76 L454.32,127.32 L455.64,124.88 L456.97,122.46 L458.29,120.08 L459.62,117.78 L460.94,115.56 L462.27,113.44 L463.60,111.45 L464.92,109.58 L466.25,107.85 L467.57,106.25 L468.90,104.79 L470.22,103.46 L471.55,102.26 L472.88,101.18 L474.20,100.21 L475.53,99.34 L476.85,98.57 L478.18,97.89 L479.51,97.29 L480.83,96.76 L482.16,96.29 L483.48,95.89 L484.81,95.53 L486.13,95.22 L487.46,94.94 L488.79,94.71 L490.11,94.50 L491.44,94.32 L492.76,94.16 L494.09,94.02 L495.42,93.91 L496.74,93.80 L498.07,93.71 L499.39,93.64 L500.72,93.57 L502.04,93.51 L503.37,93.46 L504.70,93.42 L506.02,93.38 L507.35,93.34 L508.67,93.32 L510.00,93.29 L511.32,93.27 L512.65,93.25" fill="none" stroke="#ef8a2a" stroke-width="1.6"/>
<rect x="404.59" y="163.93" width="4.00" height="4.00" fill="#ef8a2a"/>
<path d="M418.37,149.47V159.60M416.87,149.47H419.87M416.87,159.60H419.87" stroke="#ef8a2a" stroke-width="1.0" fill="none"/>
<rect x="416.37" y="152.53" width="4.00" height="4.00" fill="#ef8a2a"/>
<path d="M430.16,154.53V158.33M428.66,154.53H431.66M428.66,158.33H431.66" stroke="#ef8a2a" stroke-width="1.0" fill="none"/>
<rect x="428.16" y="154.43" width="4.00" height="4.00" fill="#ef8a2a"/>
<path d="M441.94,142.03V152.16M440.44,142.03H443.44M440.44,152.16H443.44" stroke="#ef8a2a" stroke-width="1.0" fill="none"/>
<rect x="439.94" y="145.10" width="4.00" height="4.00" fill="#ef8a2a"/>
<path d="M453.73,125.25V131.58M452.23,125.25H455.23M452.23,131.58H455.23" stroke="#ef8a2a" stroke-width="1.0" fill="none"/>
<rect x="451.73" y="126.41" width="4.00" height="4.00" fill="#ef8a2a"/>
<rect x="463.51" y="106.80" width="4.00" height="4.00" fill="#ef8a2a"/>
<rect x="475.30" y="96.34" width="4.00" height="4.00" fill="#ef8a2a"/>
<rect x="487.08" y="92.66" width="4.00" height="4.00" fill="#ef8a2a"/>
<rect x="498.87" y="91.56" width="4.00" height="4.00" fill="#ef8a2a"/>
<rect x="510.65" y="91.25" width="4.00" height="4.00" fill="#ef8a2a"/>
<path d="M406.59,146.76 L407.91,146.65 L409.24,146.53 L410.56,146.38 L411.89,146.22 L413.22,146.04 L414.54,145.84 L415.87,145.61 L417.19,145.36 L418.52,145.07 L419.84,144.75 L421.17,144.39 L422.50,143.99 L423.82,143.55 L425.15,143.05 L426.47,142.50 L427.80,141.90 L429.13,141.23 L430.45,140.49 L431.78,139.68 L433.10,138.80 L434.43,137.83 L435.75,136.79 L437.08,135.66 L438.41,134.45 L439.73,133.16 L441.06,131.78 L442.38,130.33 L443.71,128.80 L445.03,127.21 L446.36,125.57 L447.69,123.87 L449.01,122.14 L450.34,120.39 L451.66,118.63 L452.99,116.87 L454.32,115.13 L455.64,113.42 L456.97,111.75 L458.29,110.14 L459.62,108.58 L460.94,107.10 L462.27,105.68 L463.60,104.35 L464.92,103.11 L466.25,101.94 L467.57,100.86 L468.90,99.86 L470.22,98.94 L471.55,98.10 L472.88,97.33 L474.20,96.63 L475.53,96.00 L476.85,95.42 L478.18,94.90 L479.51,94.44 L480.83,94.02 L482.16,93.64 L483.48,93.30 L484.81,93.00 L486.13,92.73 L487.46,92.50 L488.79,92.28 L490.11,92.09 L491.44,91.92 L492.76,91.77 L494.09,91.64 L495.42,91.52 L496.74,91.41 L498.07,91.32 L499.39,91.24 L500.72,91.16 L502.04,91.10 L503.37,91.04 L504.70,90.99 L506.02,90.95 L507.35,90.91 L508.67,90.87 L510.00,90.84 L511.32,90.81 L512.65,90.79" fill="none" stroke="#18743f" stroke-width="1.6"/>
<path d="M406.59,144.23V149.30M405.09,144.23H408.09M405.09,149.30H408.09" stroke="#18743f" stroke-width="1.0" fill="none"/>
<path d="M404.29,144.96L408.89,144.96L406.59,148.96Z" fill="#18743f"/>
<path d="M418.37,142.57V147.63M416.87,142.57H419.87M416.87,147.63H419.87" stroke="#18743f" stroke-width="1.0" fill="none"/>
<path d="M416.07,143.30L420.67,143.30L418.37,147.30Z" fill="#18743f"/>
<path d="M427.86,133.11L432.46,133.11L430.16,137.11Z" fill="#18743f"/>
<path d="M441.94,128.29V133.35M440.44,128.29H443.44M440.44,133.35H443.44" stroke="#18743f" stroke-width="1.0" fill="none"/>
<path d="M439.64,129.02L444.24,129.02L441.94,133.02Z" fill="#18743f"/>
<path d="M453.73,114.00V117.80M452.23,114.00H455.23M452.23,117.80H455.23" stroke="#18743f" stroke-width="1.0" fill="none"/>
<path d="M451.43,114.10L456.03,114.10L453.73,118.10Z" fill="#18743f"/>
<path d="M465.51,100.68V104.48M464.01,100.68H467.01M464.01,104.48H467.01" stroke="#18743f" stroke-width="1.0" fill="none"/>
<path d="M463.21,100.78L467.81,100.78L465.51,104.78Z" fill="#18743f"/>
<path d="M477.30,93.34V97.14M475.80,93.34H478.80M475.80,97.14H478.80" stroke="#18743f" stroke-width="1.0" fill="none"/>
<path d="M475.00,93.44L479.60,93.44L477.30,97.44Z" fill="#18743f"/>
<path d="M486.78,90.44L491.38,90.44L489.08,94.44Z" fill="#18743f"/>
<path d="M498.57,89.36L503.17,89.36L500.87,93.36Z" fill="#18743f"/>
<path d="M510.35,88.99L514.95,88.99L512.65,92.99Z" fill="#18743f"/>
<path d="M406.59,142.95 L407.91,142.67 L409.24,142.34 L410.56,141.97 L411.89,141.55 L413.22,141.07 L414.54,140.52 L415.87,139.90 L417.19,139.19 L418.52,138.41 L419.84,137.53 L421.17,136.55 L422.50,135.47 L423.82,134.29 L425.15,133.01 L426.47,131.64 L427.80,130.17 L429.13,128.61 L430.45,126.99 L431.78,125.31 L433.10,123.60 L434.43,121.87 L435.75,120.14 L437.08,118.43 L438.41,116.77 L439.73,115.16 L441.06,113.63 L442.38,112.18 L443.71,110.83 L445.03,109.57 L446.36,108.42 L447.69,107.37 L449.01,106.42 L450.34,105.56 L451.66,104.80 L452.99,104.12 L454.32,103.52 L455.64,102.99 L456.97,102.52 L458.29,102.11 L459.62,101.75 L460.94,101.44 L462.27,101.17 L463.60,100.94 L464.92,100.73 L466.25,100.56 L467.57,100.40 L468.90,100.27 L470.22,100.16 L471.55,100.06 L472.88,99.98 L474.20,99.91 L475.53,99.84 L476.85,99.79 L478.18,99.74 L479.51,99.70 L480.83,99.67 L482.16,99.64 L483.48,99.62 L484.81,99.59 L486.13,99.58 L487.46,99.56 L488.79,99.55 L490.11,99.53 L491.44,99.52 L492.76,99.52 L494.09,99.51 L495.42,99.50 L496.74,99.50 L498.07,99.49 L499.39,99.49 L500.72,99.48 L502.04,99.48 L503.37,99.48 L504.70,99.48 L506.02,99.47 L507.35,99.47 L508.67,99.47 L510.00,99.47 L511.32,99.47 L512.65,99.47" fill="none" stroke="#2d3c87" stroke-width="1.6"/>
<path d="M406.59,139.15V146.75M405.09,139.15H408.09M405.09,146.75H408.09" stroke="#2d3c87" stroke-width="1.0" fill="none"/>
<path d="M406.59,140.55L408.99,142.95L406.59,145.35L404.19,142.95Z" fill="#2d3c87"/>
<path d="M418.37,134.70V142.30M416.87,134.70H419.87M416.87,142.30H419.87" stroke="#2d3c87" stroke-width="1.0" fill="none"/>
<path d="M418.37,136.10L420.77,138.50L418.37,140.90L415.97,138.50Z" fill="#2d3c87"/>
<path d="M430.16,122.29V132.42M428.66,122.29H431.66M428.66,132.42H431.66" stroke="#2d3c87" stroke-width="1.0" fill="none"/>
<path d="M430.16,124.96L432.56,127.36L430.16,129.76L427.76,127.36Z" fill="#2d3c87"/>
<path d="M441.94,109.49V115.82M440.44,109.49H443.44M440.44,115.82H443.44" stroke="#2d3c87" stroke-width="1.0" fill="none"/>
<path d="M441.94,110.25L444.34,112.65L441.94,115.05L439.54,112.65Z" fill="#2d3c87"/>
<path d="M453.73,101.88V105.67M452.23,101.88H455.23M452.23,105.67H455.23" stroke="#2d3c87" stroke-width="1.0" fill="none"/>
<path d="M453.73,101.38L456.13,103.78L453.73,106.18L451.33,103.78Z" fill="#2d3c87"/>
<path d="M465.51,98.75V102.55M464.01,98.75H467.01M464.01,102.55H467.01" stroke="#2d3c87" stroke-width="1.0" fill="none"/>
<path d="M465.51,98.25L467.91,100.65L465.51,103.05L463.11,100.65Z" fill="#2d3c87"/>
<path d="M477.30,97.37L479.70,99.77L477.30,102.17L474.90,99.77Z" fill="#2d3c87"/>
<path d="M489.08,97.14L491.48,99.54L489.08,101.94L486.68,99.54Z" fill="#2d3c87"/>
<path d="M500.87,97.08L503.27,99.48L500.87,101.88L498.47,99.48Z" fill="#2d3c87"/>
<path d="M512.65,100.86L515.05,103.26L512.65,105.66L510.25,103.26Z" fill="#2d3c87"/>
<text x="2.60" y="233.60" font-size="13.2" text-anchor="start" font-weight="bold">B</text>
<text x="51.00" y="247.10" font-size="8.1" text-anchor="start" textLength="48.5" lengthAdjust="spacingAndGlyphs" >DR5 resistant</text>
<text x="0" y="0" font-size="7" text-anchor="middle" textLength="83" lengthAdjust="spacingAndGlyphs" transform="translate(6.90,288.70) rotate(-90)">Cell viability (% inhibition)</text>
<line x1="26.8" y1="250.00" x2="26.8" y2="326.20" stroke="#2b2b7a" stroke-width="1.65"/>
<line x1="23.20" y1="325.40" x2="26.8" y2="325.40" stroke="#2b2b7a" stroke-width="1.2"/>
<text x="22.50" y="328.20" font-size="6.8" text-anchor="end" style="stroke-width:0.12px">&#8722;20</text>
<line x1="23.20" y1="312.90" x2="26.8" y2="312.90" stroke="#2b2b7a" stroke-width="1.2"/>
<text x="22.50" y="315.70" font-size="6.8" text-anchor="end" style="stroke-width:0.12px">0</text>
<line x1="23.20" y1="300.46" x2="26.8" y2="300.46" stroke="#2b2b7a" stroke-width="1.2"/>
<text x="22.50" y="303.26" font-size="6.8" text-anchor="end" style="stroke-width:0.12px">20</text>
<line x1="23.20" y1="288.02" x2="26.8" y2="288.02" stroke="#2b2b7a" stroke-width="1.2"/>
<text x="22.50" y="290.82" font-size="6.8" text-anchor="end" style="stroke-width:0.12px">40</text>
<line x1="23.20" y1="275.58" x2="26.8" y2="275.58" stroke="#2b2b7a" stroke-width="1.2"/>
<text x="22.50" y="278.38" font-size="6.8" text-anchor="end" style="stroke-width:0.12px">60</text>
<line x1="23.20" y1="263.14" x2="26.8" y2="263.14" stroke="#2b2b7a" stroke-width="1.2"/>
<text x="22.50" y="265.94" font-size="6.8" text-anchor="end" style="stroke-width:0.12px">80</text>
<line x1="23.20" y1="250.70" x2="26.8" y2="250.70" stroke="#2b2b7a" stroke-width="1.2"/>
<text x="22.50" y="253.50" font-size="6.8" text-anchor="end" style="stroke-width:0.12px">100</text>
<line x1="37.70" y1="338.1" x2="158.10" y2="338.1" stroke="#2b2b7a" stroke-width="2.0"/>
<line x1="45.48" y1="338.1" x2="45.48" y2="340.40" stroke="#2b2b7a" stroke-width="1.0"/>
<line x1="49.67" y1="338.1" x2="49.67" y2="340.40" stroke="#2b2b7a" stroke-width="1.0"/>
<line x1="52.65" y1="338.1" x2="52.65" y2="340.40" stroke="#2b2b7a" stroke-width="1.0"/>
<line x1="54.96" y1="338.1" x2="54.96" y2="340.40" stroke="#2b2b7a" stroke-width="1.0"/>
<line x1="56.85" y1="338.1" x2="56.85" y2="340.40" stroke="#2b2b7a" stroke-width="1.0"/>
<line x1="58.45" y1="338.1" x2="58.45" y2="340.40" stroke="#2b2b7a" stroke-width="1.0"/>
<line x1="59.83" y1="338.1" x2="59.83" y2="340.40" stroke="#2b2b7a" stroke-width="1.0"/>
<line x1="61.05" y1="338.1" x2="61.05" y2="340.40" stroke="#2b2b7a" stroke-width="1.0"/>
<line x1="69.32" y1="338.1" x2="69.32" y2="340.40" stroke="#2b2b7a" stroke-width="1.0"/>
<line x1="73.51" y1="338.1" x2="73.51" y2="340.40" stroke="#2b2b7a" stroke-width="1.0"/>
<line x1="76.49" y1="338.1" x2="76.49" y2="340.40" stroke="#2b2b7a" stroke-width="1.0"/>
<line x1="78.80" y1="338.1" x2="78.80" y2="340.40" stroke="#2b2b7a" stroke-width="1.0"/>
<line x1="80.69" y1="338.1" x2="80.69" y2="340.40" stroke="#2b2b7a" stroke-width="1.0"/>
<line x1="82.29" y1="338.1" x2="82.29" y2="340.40" stroke="#2b2b7a" stroke-width="1.0"/>
<line x1="83.67" y1="338.1" x2="83.67" y2="340.40" stroke="#2b2b7a" stroke-width="1.0"/>
<line x1="84.89" y1="338.1" x2="84.89" y2="340.40" stroke="#2b2b7a" stroke-width="1.0"/>
<line x1="93.16" y1="338.1" x2="93.16" y2="340.40" stroke="#2b2b7a" stroke-width="1.0"/>
<line x1="97.35" y1="338.1" x2="97.35" y2="340.40" stroke="#2b2b7a" stroke-width="1.0"/>
<line x1="100.33" y1="338.1" x2="100.33" y2="340.40" stroke="#2b2b7a" stroke-width="1.0"/>
<line x1="102.64" y1="338.1" x2="102.64" y2="340.40" stroke="#2b2b7a" stroke-width="1.0"/>
<line x1="104.53" y1="338.1" x2="104.53" y2="340.40" stroke="#2b2b7a" stroke-width="1.0"/>
<line x1="106.13" y1="338.1" x2="106.13" y2="340.40" stroke="#2b2b7a" stroke-width="1.0"/>
<line x1="107.51" y1="338.1" x2="107.51" y2="340.40" stroke="#2b2b7a" stroke-width="1.0"/>
<line x1="108.73" y1="338.1" x2="108.73" y2="340.40" stroke="#2b2b7a" stroke-width="1.0"/>
<line x1="117.00" y1="338.1" x2="117.00" y2="340.40" stroke="#2b2b7a" stroke-width="1.0"/>
<line x1="121.19" y1="338.1" x2="121.19" y2="340.40" stroke="#2b2b7a" stroke-width="1.0"/>
<line x1="124.17" y1="338.1" x2="124.17" y2="340.40" stroke="#2b2b7a" stroke-width="1.0"/>
<line x1="126.48" y1="338.1" x2="126.48" y2="340.40" stroke="#2b2b7a" stroke-width="1.0"/>
<line x1="128.37" y1="338.1" x2="128.37" y2="340.40" stroke="#2b2b7a" stroke-width="1.0"/>
<line x1="129.97" y1="338.1" x2="129.97" y2="340.40" stroke="#2b2b7a" stroke-width="1.0"/>
<line x1="131.35" y1="338.1" x2="131.35" y2="340.40" stroke="#2b2b7a" stroke-width="1.0"/>
<line x1="132.57" y1="338.1" x2="132.57" y2="340.40" stroke="#2b2b7a" stroke-width="1.0"/>
<line x1="140.84" y1="338.1" x2="140.84" y2="340.40" stroke="#2b2b7a" stroke-width="1.0"/>
<line x1="145.03" y1="338.1" x2="145.03" y2="340.40" stroke="#2b2b7a" stroke-width="1.0"/>
<line x1="148.01" y1="338.1" x2="148.01" y2="340.40" stroke="#2b2b7a" stroke-width="1.0"/>
<line x1="150.32" y1="338.1" x2="150.32" y2="340.40" stroke="#2b2b7a" stroke-width="1.0"/>
<line x1="152.21" y1="338.1" x2="152.21" y2="340.40" stroke="#2b2b7a" stroke-width="1.0"/>
<line x1="153.81" y1="338.1" x2="153.81" y2="340.40" stroke="#2b2b7a" stroke-width="1.0"/>
<line x1="155.19" y1="338.1" x2="155.19" y2="340.40" stroke="#2b2b7a" stroke-width="1.0"/>
<line x1="156.41" y1="338.1" x2="156.41" y2="340.40" stroke="#2b2b7a" stroke-width="1.0"/>
<line x1="38.30" y1="338.1" x2="38.30" y2="341.50" stroke="#2b2b7a" stroke-width="1.4"/>
<text x="37.10" y="347.90" font-size="7.0" text-anchor="middle" style="stroke-width:0.12px">&#8722;3</text>
<line x1="62.14" y1="338.1" x2="62.14" y2="341.50" stroke="#2b2b7a" stroke-width="1.4"/>
<text x="60.94" y="347.90" font-size="7.0" text-anchor="middle" style="stroke-width:0.12px">&#8722;2</text>
<line x1="85.98" y1="338.1" x2="85.98" y2="341.50" stroke="#2b2b7a" stroke-width="1.4"/>
<text x="84.78" y="347.90" font-size="7.0" text-anchor="middle" style="stroke-width:0.12px">&#8722;1</text>
<line x1="109.82" y1="338.1" x2="109.82" y2="341.50" stroke="#2b2b7a" stroke-width="1.4"/>
<text x="109.82" y="347.90" font-size="7.0" text-anchor="middle" style="stroke-width:0.12px">0</text>
<line x1="133.66" y1="338.1" x2="133.66" y2="341.50" stroke="#2b2b7a" stroke-width="1.4"/>
<text x="133.66" y="347.90" font-size="7.0" text-anchor="middle" style="stroke-width:0.12px">1</text>
<line x1="157.50" y1="338.1" x2="157.50" y2="341.50" stroke="#2b2b7a" stroke-width="1.4"/>
<text x="157.50" y="347.90" font-size="7.0" text-anchor="middle" style="stroke-width:0.12px">2</text>
<text x="70.80" y="358.80" font-size="7.5" text-anchor="start" textLength="45.7" lengthAdjust="spacingAndGlyphs" >Log (nmol/L)</text>
<line x1="27.50" y1="312.90" x2="157.50" y2="312.90" stroke="#111" stroke-width="1.0" stroke-dasharray="1.2,1.0"/>
<path d="M50.93,313.51 L52.21,313.51 L53.49,313.51 L54.77,313.51 L56.05,313.51 L57.33,313.51 L58.61,313.51 L59.89,313.51 L61.17,313.51 L62.45,313.51 L63.73,313.51 L65.01,313.51 L66.29,313.51 L67.57,313.51 L68.85,313.51 L70.13,313.51 L71.41,313.51 L72.68,313.51 L73.96,313.51 L75.24,313.51 L76.52,313.51 L77.80,313.51 L79.08,313.51 L80.36,313.51 L81.64,313.51 L82.92,313.51 L84.20,313.51 L85.48,313.51 L86.76,313.51 L88.04,313.51 L89.32,313.51 L90.60,313.51 L91.88,313.51 L93.16,313.51 L94.44,313.51 L95.72,313.51 L97.00,313.51 L98.28,313.51 L99.56,313.51 L100.84,313.51 L102.12,313.51 L103.40,313.51 L104.68,313.51 L105.96,313.51 L107.24,313.51 L108.51,313.51 L109.79,313.51 L111.07,313.51 L112.35,313.51 L113.63,313.51 L114.91,313.51 L116.19,313.51 L117.47,313.51 L118.75,313.51 L120.03,313.51 L121.31,313.51 L122.59,313.51 L123.87,313.51 L125.15,313.51 L126.43,313.51 L127.71,313.51 L128.99,313.51 L130.27,313.51 L131.55,313.51 L132.83,313.51 L134.11,313.51 L135.39,313.51 L136.67,313.51 L137.95,313.51 L139.23,313.51 L140.51,313.51 L141.79,313.51 L143.06,313.51 L144.34,313.51 L145.62,313.51 L146.90,313.51 L148.18,313.51 L149.46,313.51 L150.74,313.51 L152.02,313.51 L153.30,313.51" fill="none" stroke="#ef8a2a" stroke-width="1.6"/>
<rect x="48.93" y="313.08" width="4.00" height="4.00" fill="#ef8a2a"/>
<rect x="60.31" y="311.20" width="4.00" height="4.00" fill="#ef8a2a"/>
<rect x="71.68" y="311.83" width="4.00" height="4.00" fill="#ef8a2a"/>
<rect x="83.05" y="313.08" width="4.00" height="4.00" fill="#ef8a2a"/>
<rect x="94.43" y="310.57" width="4.00" height="4.00" fill="#ef8a2a"/>
<rect x="105.80" y="308.70" width="4.00" height="4.00" fill="#ef8a2a"/>
<rect x="117.18" y="312.45" width="4.00" height="4.00" fill="#ef8a2a"/>
<rect x="128.55" y="308.70" width="4.00" height="4.00" fill="#ef8a2a"/>
<rect x="139.93" y="311.20" width="4.00" height="4.00" fill="#ef8a2a"/>
<rect x="151.30" y="310.57" width="4.00" height="4.00" fill="#ef8a2a"/>
<path d="M50.93,310.35 L52.21,310.15 L53.49,309.93 L54.77,309.69 L56.05,309.43 L57.33,309.14 L58.61,308.82 L59.89,308.47 L61.17,308.09 L62.45,307.67 L63.73,307.22 L65.01,306.72 L66.29,306.18 L67.57,305.59 L68.85,304.96 L70.13,304.27 L71.41,303.53 L72.68,302.73 L73.96,301.88 L75.24,300.97 L76.52,300.00 L77.80,298.97 L79.08,297.88 L80.36,296.74 L81.64,295.54 L82.92,294.29 L84.20,292.99 L85.48,291.65 L86.76,290.28 L88.04,288.87 L89.32,287.44 L90.60,285.99 L91.88,284.54 L93.16,283.08 L94.44,281.63 L95.72,280.20 L97.00,278.79 L98.28,277.41 L99.56,276.07 L100.84,274.77 L102.12,273.51 L103.40,272.31 L104.68,271.16 L105.96,270.07 L107.24,269.03 L108.51,268.06 L109.79,267.14 L111.07,266.28 L112.35,265.48 L113.63,264.73 L114.91,264.04 L116.19,263.40 L117.47,262.81 L118.75,262.26 L120.03,261.76 L121.31,261.30 L122.59,260.88 L123.87,260.49 L125.15,260.14 L126.43,259.82 L127.71,259.53 L128.99,259.26 L130.27,259.02 L131.55,258.80 L132.83,258.60 L134.11,258.42 L135.39,258.26 L136.67,258.11 L137.95,257.98 L139.23,257.85 L140.51,257.75 L141.79,257.65 L143.06,257.56 L144.34,257.48 L145.62,257.40 L146.90,257.34 L148.18,257.28 L149.46,257.22 L150.74,257.18 L152.02,257.13 L153.30,257.09" fill="none" stroke="#18743f" stroke-width="1.6"/>
<path d="M48.63,308.55L53.23,308.55L50.93,312.55Z" fill="#18743f"/>
<path d="M60.01,305.92L64.61,305.92L62.31,309.92Z" fill="#18743f"/>
<path d="M71.38,300.27L75.98,300.27L73.68,304.27Z" fill="#18743f"/>
<path d="M82.75,290.30L87.35,290.30L85.05,294.30Z" fill="#18743f"/>
<path d="M94.13,277.61L98.73,277.61L96.43,281.61Z" fill="#18743f"/>
<path d="M105.50,266.79L110.10,266.79L107.80,270.79Z" fill="#18743f"/>
<path d="M116.88,260.29L121.48,260.29L119.18,264.29Z" fill="#18743f"/>
<path d="M128.25,257.17L132.85,257.17L130.55,261.17Z" fill="#18743f"/>
<path d="M139.63,255.84L144.23,255.84L141.93,259.84Z" fill="#18743f"/>
<path d="M151.00,255.29L155.60,255.29L153.30,259.29Z" fill="#18743f"/>
<path d="M50.93,308.81 L52.21,308.61 L53.49,308.39 L54.77,308.14 L56.05,307.87 L57.33,307.57 L58.61,307.24 L59.89,306.88 L61.17,306.47 L62.45,306.03 L63.73,305.55 L65.01,305.02 L66.29,304.44 L67.57,303.80 L68.85,303.12 L70.13,302.37 L71.41,301.57 L72.68,300.70 L73.96,299.77 L75.24,298.77 L76.52,297.71 L77.80,296.59 L79.08,295.40 L80.36,294.16 L81.64,292.85 L82.92,291.50 L84.20,290.10 L85.48,288.66 L86.76,287.19 L88.04,285.69 L89.32,284.18 L90.60,282.67 L91.88,281.16 L93.16,279.66 L94.44,278.19 L95.72,276.74 L97.00,275.34 L98.28,273.98 L99.56,272.67 L100.84,271.42 L102.12,270.22 L103.40,269.09 L104.68,268.02 L105.96,267.02 L107.24,266.08 L108.51,265.21 L109.79,264.40 L111.07,263.64 L112.35,262.95 L113.63,262.31 L114.91,261.73 L116.19,261.19 L117.47,260.70 L118.75,260.25 L120.03,259.85 L121.31,259.48 L122.59,259.14 L123.87,258.84 L125.15,258.57 L126.43,258.32 L127.71,258.09 L128.99,257.89 L130.27,257.71 L131.55,257.54 L132.83,257.40 L134.11,257.26 L135.39,257.15 L136.67,257.04 L137.95,256.94 L139.23,256.86 L140.51,256.78 L141.79,256.71 L143.06,256.65 L144.34,256.59 L145.62,256.54 L146.90,256.49 L148.18,256.45 L149.46,256.42 L150.74,256.39 L152.02,256.36 L153.30,256.33" fill="none" stroke="#d42a7e" stroke-width="1.6"/>
<circle cx="50.93" cy="308.81" r="2.00" fill="#d42a7e"/>
<circle cx="62.31" cy="306.08" r="2.00" fill="#d42a7e"/>
<circle cx="73.68" cy="296.92" r="2.00" fill="#d42a7e"/>
<circle cx="85.05" cy="289.14" r="2.00" fill="#d42a7e"/>
<circle cx="96.43" cy="275.96" r="2.00" fill="#d42a7e"/>
<circle cx="107.80" cy="262.49" r="2.00" fill="#d42a7e"/>
<circle cx="119.18" cy="260.11" r="2.00" fill="#d42a7e"/>
<circle cx="130.55" cy="257.67" r="2.00" fill="#d42a7e"/>
<circle cx="141.93" cy="256.70" r="2.00" fill="#d42a7e"/>
<circle cx="153.30" cy="256.33" r="2.00" fill="#d42a7e"/>
<path d="M50.93,310.34 L52.21,310.33 L53.49,310.32 L54.77,310.31 L56.05,310.29 L57.33,310.27 L58.61,310.25 L59.89,310.22 L61.17,310.19 L62.45,310.15 L63.73,310.10 L65.01,310.04 L66.29,309.97 L67.57,309.89 L68.85,309.79 L70.13,309.67 L71.41,309.52 L72.68,309.35 L73.96,309.14 L75.24,308.89 L76.52,308.60 L77.80,308.24 L79.08,307.83 L80.36,307.33 L81.64,306.75 L82.92,306.06 L84.20,305.26 L85.48,304.33 L86.76,303.26 L88.04,302.02 L89.32,300.62 L90.60,299.05 L91.88,297.29 L93.16,295.36 L94.44,293.27 L95.72,291.04 L97.00,288.68 L98.28,286.25 L99.56,283.77 L100.84,281.29 L102.12,278.85 L103.40,276.50 L104.68,274.26 L105.96,272.17 L107.24,270.24 L108.51,268.48 L109.79,266.90 L111.07,265.49 L112.35,264.26 L113.63,263.18 L114.91,262.25 L116.19,261.44 L117.47,260.76 L118.75,260.17 L120.03,259.67 L121.31,259.26 L122.59,258.90 L123.87,258.61 L125.15,258.36 L126.43,258.15 L127.71,257.98 L128.99,257.83 L130.27,257.71 L131.55,257.61 L132.83,257.52 L134.11,257.45 L135.39,257.40 L136.67,257.35 L137.95,257.31 L139.23,257.27 L140.51,257.25 L141.79,257.22 L143.06,257.20 L144.34,257.19 L145.62,257.17 L146.90,257.16 L148.18,257.15 L149.46,257.15 L150.74,257.14 L152.02,257.14 L153.30,257.13" fill="none" stroke="#2d3c87" stroke-width="1.6"/>
<path d="M50.93,307.94L53.33,310.34L50.93,312.74L48.53,310.34Z" fill="#2d3c87"/>
<path d="M62.31,307.75L64.71,310.15L62.31,312.55L59.91,310.15Z" fill="#2d3c87"/>
<path d="M73.68,306.79L76.08,309.19L73.68,311.59L71.28,309.19Z" fill="#2d3c87"/>
<path d="M85.05,302.26L87.45,304.66L85.05,307.06L82.65,304.66Z" fill="#2d3c87"/>
<path d="M96.43,286.91V293.17M94.93,286.91H97.93M94.93,293.17H97.93" stroke="#2d3c87" stroke-width="1.0" fill="none"/>
<path d="M96.43,287.64L98.83,290.04L96.43,292.44L94.03,290.04Z" fill="#2d3c87"/>
<path d="M107.80,267.03L110.20,269.43L107.80,271.83L105.40,269.43Z" fill="#2d3c87"/>
<path d="M119.18,257.60L121.58,260.00L119.18,262.40L116.78,260.00Z" fill="#2d3c87"/>
<path d="M130.55,255.28L132.95,257.68L130.55,260.08L128.15,257.68Z" fill="#2d3c87"/>
<path d="M141.93,254.82L144.33,257.22L141.93,259.62L139.53,257.22Z" fill="#2d3c87"/>
<path d="M153.30,254.73L155.70,257.13L153.30,259.53L150.90,257.13Z" fill="#2d3c87"/>
<text x="175.40" y="233.80" font-size="13.2" text-anchor="start" font-weight="bold">D</text>
<text x="226.90" y="247.40" font-size="8.1" text-anchor="start" textLength="54.6" lengthAdjust="spacingAndGlyphs" >TRAIL resistant</text>
<text x="0" y="0" font-size="7" text-anchor="middle" textLength="82.7" lengthAdjust="spacingAndGlyphs" transform="translate(180.40,287.50) rotate(-90)">Cell viability (% inhibition)</text>
<line x1="202.1" y1="246.50" x2="202.1" y2="325.70" stroke="#2b2b7a" stroke-width="1.65"/>
<line x1="198.50" y1="324.90" x2="202.1" y2="324.90" stroke="#2b2b7a" stroke-width="1.2"/>
<text x="197.80" y="327.70" font-size="6.8" text-anchor="end" style="stroke-width:0.12px">&#8722;20</text>
<line x1="198.50" y1="312.60" x2="202.1" y2="312.60" stroke="#2b2b7a" stroke-width="1.2"/>
<text x="197.80" y="315.40" font-size="6.8" text-anchor="end" style="stroke-width:0.12px">0</text>
<line x1="198.50" y1="299.52" x2="202.1" y2="299.52" stroke="#2b2b7a" stroke-width="1.2"/>
<text x="197.80" y="302.32" font-size="6.8" text-anchor="end" style="stroke-width:0.12px">20</text>
<line x1="198.50" y1="286.44" x2="202.1" y2="286.44" stroke="#2b2b7a" stroke-width="1.2"/>
<text x="197.80" y="289.24" font-size="6.8" text-anchor="end" style="stroke-width:0.12px">40</text>
<line x1="198.50" y1="273.36" x2="202.1" y2="273.36" stroke="#2b2b7a" stroke-width="1.2"/>
<text x="197.80" y="276.16" font-size="6.8" text-anchor="end" style="stroke-width:0.12px">60</text>
<line x1="198.50" y1="260.28" x2="202.1" y2="260.28" stroke="#2b2b7a" stroke-width="1.2"/>
<text x="197.80" y="263.08" font-size="6.8" text-anchor="end" style="stroke-width:0.12px">80</text>
<line x1="198.50" y1="247.20" x2="202.1" y2="247.20" stroke="#2b2b7a" stroke-width="1.2"/>
<text x="197.80" y="250.00" font-size="6.8" text-anchor="end" style="stroke-width:0.12px">100</text>
<line x1="213.70" y1="338.8" x2="339.80" y2="338.8" stroke="#2b2b7a" stroke-width="2.0"/>
<line x1="221.82" y1="338.8" x2="221.82" y2="341.10" stroke="#2b2b7a" stroke-width="1.0"/>
<line x1="226.22" y1="338.8" x2="226.22" y2="341.10" stroke="#2b2b7a" stroke-width="1.0"/>
<line x1="229.34" y1="338.8" x2="229.34" y2="341.10" stroke="#2b2b7a" stroke-width="1.0"/>
<line x1="231.76" y1="338.8" x2="231.76" y2="341.10" stroke="#2b2b7a" stroke-width="1.0"/>
<line x1="233.74" y1="338.8" x2="233.74" y2="341.10" stroke="#2b2b7a" stroke-width="1.0"/>
<line x1="235.41" y1="338.8" x2="235.41" y2="341.10" stroke="#2b2b7a" stroke-width="1.0"/>
<line x1="236.86" y1="338.8" x2="236.86" y2="341.10" stroke="#2b2b7a" stroke-width="1.0"/>
<line x1="238.14" y1="338.8" x2="238.14" y2="341.10" stroke="#2b2b7a" stroke-width="1.0"/>
<line x1="246.80" y1="338.8" x2="246.80" y2="341.10" stroke="#2b2b7a" stroke-width="1.0"/>
<line x1="251.20" y1="338.8" x2="251.20" y2="341.10" stroke="#2b2b7a" stroke-width="1.0"/>
<line x1="254.32" y1="338.8" x2="254.32" y2="341.10" stroke="#2b2b7a" stroke-width="1.0"/>
<line x1="256.74" y1="338.8" x2="256.74" y2="341.10" stroke="#2b2b7a" stroke-width="1.0"/>
<line x1="258.72" y1="338.8" x2="258.72" y2="341.10" stroke="#2b2b7a" stroke-width="1.0"/>
<line x1="260.39" y1="338.8" x2="260.39" y2="341.10" stroke="#2b2b7a" stroke-width="1.0"/>
<line x1="261.84" y1="338.8" x2="261.84" y2="341.10" stroke="#2b2b7a" stroke-width="1.0"/>
<line x1="263.12" y1="338.8" x2="263.12" y2="341.10" stroke="#2b2b7a" stroke-width="1.0"/>
<line x1="271.78" y1="338.8" x2="271.78" y2="341.10" stroke="#2b2b7a" stroke-width="1.0"/>
<line x1="276.18" y1="338.8" x2="276.18" y2="341.10" stroke="#2b2b7a" stroke-width="1.0"/>
<line x1="279.30" y1="338.8" x2="279.30" y2="341.10" stroke="#2b2b7a" stroke-width="1.0"/>
<line x1="281.72" y1="338.8" x2="281.72" y2="341.10" stroke="#2b2b7a" stroke-width="1.0"/>
<line x1="283.70" y1="338.8" x2="283.70" y2="341.10" stroke="#2b2b7a" stroke-width="1.0"/>
<line x1="285.37" y1="338.8" x2="285.37" y2="341.10" stroke="#2b2b7a" stroke-width="1.0"/>
<line x1="286.82" y1="338.8" x2="286.82" y2="341.10" stroke="#2b2b7a" stroke-width="1.0"/>
<line x1="288.10" y1="338.8" x2="288.10" y2="341.10" stroke="#2b2b7a" stroke-width="1.0"/>
<line x1="296.76" y1="338.8" x2="296.76" y2="341.10" stroke="#2b2b7a" stroke-width="1.0"/>
<line x1="301.16" y1="338.8" x2="301.16" y2="341.10" stroke="#2b2b7a" stroke-width="1.0"/>
<line x1="304.28" y1="338.8" x2="304.28" y2="341.10" stroke="#2b2b7a" stroke-width="1.0"/>
<line x1="306.70" y1="338.8" x2="306.70" y2="341.10" stroke="#2b2b7a" stroke-width="1.0"/>
<line x1="308.68" y1="338.8" x2="308.68" y2="341.10" stroke="#2b2b7a" stroke-width="1.0"/>
<line x1="310.35" y1="338.8" x2="310.35" y2="341.10" stroke="#2b2b7a" stroke-width="1.0"/>
<line x1="311.80" y1="338.8" x2="311.80" y2="341.10" stroke="#2b2b7a" stroke-width="1.0"/>
<line x1="313.08" y1="338.8" x2="313.08" y2="341.10" stroke="#2b2b7a" stroke-width="1.0"/>
<line x1="321.74" y1="338.8" x2="321.74" y2="341.10" stroke="#2b2b7a" stroke-width="1.0"/>
<line x1="326.14" y1="338.8" x2="326.14" y2="341.10" stroke="#2b2b7a" stroke-width="1.0"/>
<line x1="329.26" y1="338.8" x2="329.26" y2="341.10" stroke="#2b2b7a" stroke-width="1.0"/>
<line x1="331.68" y1="338.8" x2="331.68" y2="341.10" stroke="#2b2b7a" stroke-width="1.0"/>
<line x1="333.66" y1="338.8" x2="333.66" y2="341.10" stroke="#2b2b7a" stroke-width="1.0"/>
<line x1="335.33" y1="338.8" x2="335.33" y2="341.10" stroke="#2b2b7a" stroke-width="1.0"/>
<line x1="336.78" y1="338.8" x2="336.78" y2="341.10" stroke="#2b2b7a" stroke-width="1.0"/>
<line x1="338.06" y1="338.8" x2="338.06" y2="341.10" stroke="#2b2b7a" stroke-width="1.0"/>
<line x1="214.30" y1="338.8" x2="214.30" y2="342.20" stroke="#2b2b7a" stroke-width="1.4"/>
<text x="213.10" y="348.60" font-size="7.0" text-anchor="middle" style="stroke-width:0.12px">&#8722;3</text>
<line x1="239.28" y1="338.8" x2="239.28" y2="342.20" stroke="#2b2b7a" stroke-width="1.4"/>
<text x="238.08" y="348.60" font-size="7.0" text-anchor="middle" style="stroke-width:0.12px">&#8722;2</text>
<line x1="264.26" y1="338.8" x2="264.26" y2="342.20" stroke="#2b2b7a" stroke-width="1.4"/>
<text x="263.06" y="348.60" font-size="7.0" text-anchor="middle" style="stroke-width:0.12px">&#8722;1</text>
<line x1="289.24" y1="338.8" x2="289.24" y2="342.20" stroke="#2b2b7a" stroke-width="1.4"/>
<text x="289.24" y="348.60" font-size="7.0" text-anchor="middle" style="stroke-width:0.12px">0</text>
<line x1="314.22" y1="338.8" x2="314.22" y2="342.20" stroke="#2b2b7a" stroke-width="1.4"/>
<text x="314.22" y="348.60" font-size="7.0" text-anchor="middle" style="stroke-width:0.12px">1</text>
<line x1="339.20" y1="338.8" x2="339.20" y2="342.20" stroke="#2b2b7a" stroke-width="1.4"/>
<text x="339.20" y="348.60" font-size="7.0" text-anchor="middle" style="stroke-width:0.12px">2</text>
<text x="257.50" y="359.50" font-size="7.5" text-anchor="start" textLength="45.8" lengthAdjust="spacingAndGlyphs" >Log (nmol/L)</text>
<line x1="202.80" y1="312.60" x2="339.20" y2="312.60" stroke="#111" stroke-width="1.0" stroke-dasharray="1.2,1.0"/>
<path d="M227.53,312.95 L228.88,312.95 L230.22,312.95 L231.56,312.94 L232.90,312.94 L234.24,312.94 L235.58,312.93 L236.92,312.93 L238.26,312.92 L239.60,312.91 L240.94,312.90 L242.28,312.89 L243.62,312.87 L244.97,312.85 L246.31,312.83 L247.65,312.80 L248.99,312.77 L250.33,312.72 L251.67,312.67 L253.01,312.61 L254.35,312.54 L255.69,312.45 L257.03,312.34 L258.37,312.21 L259.71,312.05 L261.06,311.87 L262.40,311.65 L263.74,311.40 L265.08,311.10 L266.42,310.76 L267.76,310.37 L269.10,309.94 L270.44,309.46 L271.78,308.94 L273.12,308.38 L274.46,307.79 L275.80,307.18 L277.15,306.57 L278.49,305.96 L279.83,305.37 L281.17,304.81 L282.51,304.28 L283.85,303.80 L285.19,303.37 L286.53,302.98 L287.87,302.64 L289.21,302.34 L290.55,302.08 L291.89,301.87 L293.24,301.68 L294.58,301.52 L295.92,301.39 L297.26,301.28 L298.60,301.19 L299.94,301.12 L301.28,301.06 L302.62,301.00 L303.96,300.96 L305.30,300.93 L306.64,300.90 L307.98,300.87 L309.33,300.85 L310.67,300.84 L312.01,300.83 L313.35,300.82 L314.69,300.81 L316.03,300.80 L317.37,300.79 L318.71,300.79 L320.05,300.79 L321.39,300.78 L322.73,300.78 L324.07,300.78 L325.42,300.78 L326.76,300.77 L328.10,300.77 L329.44,300.77 L330.78,300.77 L332.12,300.77 L333.46,300.77 L334.80,300.77" fill="none" stroke="#2d3c87" stroke-width="1.6"/>
<path d="M227.53,308.83V313.99M226.03,308.83H229.03M226.03,313.99H229.03" stroke="#2d3c87" stroke-width="1.0" fill="none"/>
<path d="M227.53,309.01L229.93,311.41L227.53,313.81L225.13,311.41Z" fill="#2d3c87"/>
<path d="M239.45,311.41V317.86M237.95,311.41H240.95M237.95,317.86H240.95" stroke="#2d3c87" stroke-width="1.0" fill="none"/>
<path d="M239.45,312.24L241.85,314.63L239.45,317.03L237.05,314.63Z" fill="#2d3c87"/>
<path d="M251.37,310.75V314.62M249.87,310.75H252.87M249.87,314.62H252.87" stroke="#2d3c87" stroke-width="1.0" fill="none"/>
<path d="M251.37,310.28L253.77,312.68L251.37,315.08L248.97,312.68Z" fill="#2d3c87"/>
<path d="M263.29,308.91V314.07M261.79,308.91H264.79M261.79,314.07H264.79" stroke="#2d3c87" stroke-width="1.0" fill="none"/>
<path d="M263.29,309.09L265.69,311.49L263.29,313.89L260.89,311.49Z" fill="#2d3c87"/>
<path d="M275.21,305.52V309.39M273.71,305.52H276.71M273.71,309.39H276.71" stroke="#2d3c87" stroke-width="1.0" fill="none"/>
<path d="M275.21,305.05L277.61,307.45L275.21,309.85L272.81,307.45Z" fill="#2d3c87"/>
<path d="M287.13,301.53V304.11M285.63,301.53H288.63M285.63,304.11H288.63" stroke="#2d3c87" stroke-width="1.0" fill="none"/>
<path d="M287.13,300.42L289.53,302.82L287.13,305.22L284.73,302.82Z" fill="#2d3c87"/>
<path d="M299.05,299.88V302.46M297.55,299.88H300.55M297.55,302.46H300.55" stroke="#2d3c87" stroke-width="1.0" fill="none"/>
<path d="M299.05,298.77L301.45,301.17L299.05,303.57L296.65,301.17Z" fill="#2d3c87"/>
<path d="M310.96,298.44L313.36,300.84L310.96,303.24L308.56,300.84Z" fill="#2d3c87"/>
<path d="M322.88,298.38L325.28,300.78L322.88,303.18L320.48,300.78Z" fill="#2d3c87"/>
<path d="M334.80,299.48V302.06M333.30,299.48H336.30M333.30,302.06H336.30" stroke="#2d3c87" stroke-width="1.0" fill="none"/>
<path d="M334.80,298.37L337.20,300.77L334.80,303.17L332.40,300.77Z" fill="#2d3c87"/>
<path d="M227.53,312.31 L228.88,312.27 L230.22,312.22 L231.56,312.17 L232.90,312.12 L234.24,312.06 L235.58,312.00 L236.92,311.94 L238.26,311.87 L239.60,311.80 L240.94,311.72 L242.28,311.64 L243.62,311.56 L244.97,311.46 L246.31,311.37 L247.65,311.26 L248.99,311.15 L250.33,311.04 L251.67,310.91 L253.01,310.78 L254.35,310.64 L255.69,310.50 L257.03,310.34 L258.37,310.18 L259.71,310.01 L261.06,309.82 L262.40,309.63 L263.74,309.43 L265.08,309.22 L266.42,308.99 L267.76,308.76 L269.10,308.51 L270.44,308.26 L271.78,307.99 L273.12,307.71 L274.46,307.41 L275.80,307.11 L277.15,306.79 L278.49,306.45 L279.83,306.11 L281.17,305.75 L282.51,305.39 L283.85,305.00 L285.19,304.61 L286.53,304.21 L287.87,303.79 L289.21,303.37 L290.55,302.93 L291.89,302.49 L293.24,302.03 L294.58,301.57 L295.92,301.10 L297.26,300.63 L298.60,300.15 L299.94,299.66 L301.28,299.18 L302.62,298.69 L303.96,298.20 L305.30,297.71 L306.64,297.22 L307.98,296.74 L309.33,296.25 L310.67,295.78 L312.01,295.30 L313.35,294.84 L314.69,294.38 L316.03,293.93 L317.37,293.49 L318.71,293.05 L320.05,292.63 L321.39,292.22 L322.73,291.82 L324.07,291.43 L325.42,291.05 L326.76,290.69 L328.10,290.34 L329.44,290.00 L330.78,289.67 L332.12,289.35 L333.46,289.05 L334.80,288.76" fill="none" stroke="#ef8a2a" stroke-width="1.6"/>
<rect x="225.53" y="310.31" width="4.00" height="4.00" fill="#ef8a2a"/>
<rect x="237.45" y="309.81" width="4.00" height="4.00" fill="#ef8a2a"/>
<rect x="249.37" y="308.94" width="4.00" height="4.00" fill="#ef8a2a"/>
<rect x="261.29" y="307.50" width="4.00" height="4.00" fill="#ef8a2a"/>
<rect x="273.21" y="305.24" width="4.00" height="4.00" fill="#ef8a2a"/>
<path d="M287.13,302.09V305.96M285.63,302.09H288.63M285.63,305.96H288.63" stroke="#ef8a2a" stroke-width="1.0" fill="none"/>
<rect x="285.13" y="302.02" width="4.00" height="4.00" fill="#ef8a2a"/>
<rect x="297.05" y="297.99" width="4.00" height="4.00" fill="#ef8a2a"/>
<rect x="308.96" y="293.67" width="4.00" height="4.00" fill="#ef8a2a"/>
<rect x="320.88" y="289.77" width="4.00" height="4.00" fill="#ef8a2a"/>
<path d="M334.80,287.47V290.05M333.30,287.47H336.30M333.30,290.05H336.30" stroke="#ef8a2a" stroke-width="1.0" fill="none"/>
<rect x="332.80" y="286.76" width="4.00" height="4.00" fill="#ef8a2a"/>
<path d="M227.53,311.42 L228.88,311.41 L230.22,311.39 L231.56,311.36 L232.90,311.34 L234.24,311.31 L235.58,311.27 L236.92,311.23 L238.26,311.18 L239.60,311.13 L240.94,311.07 L242.28,311.00 L243.62,310.92 L244.97,310.83 L246.31,310.72 L247.65,310.60 L248.99,310.46 L250.33,310.31 L251.67,310.13 L253.01,309.93 L254.35,309.70 L255.69,309.44 L257.03,309.14 L258.37,308.82 L259.71,308.45 L261.06,308.04 L262.40,307.58 L263.74,307.08 L265.08,306.52 L266.42,305.92 L267.76,305.26 L269.10,304.55 L270.44,303.78 L271.78,302.98 L273.12,302.13 L274.46,301.24 L275.80,300.32 L277.15,299.38 L278.49,298.42 L279.83,297.47 L281.17,296.51 L282.51,295.58 L283.85,294.67 L285.19,293.79 L286.53,292.94 L287.87,292.15 L289.21,291.40 L290.55,290.70 L291.89,290.05 L293.24,289.46 L294.58,288.92 L295.92,288.42 L297.26,287.98 L298.60,287.58 L299.94,287.22 L301.28,286.90 L302.62,286.62 L303.96,286.36 L305.30,286.14 L306.64,285.94 L307.98,285.77 L309.33,285.62 L310.67,285.49 L312.01,285.37 L313.35,285.27 L314.69,285.18 L316.03,285.10 L317.37,285.03 L318.71,284.97 L320.05,284.92 L321.39,284.88 L322.73,284.84 L324.07,284.80 L325.42,284.77 L326.76,284.75 L328.10,284.73 L329.44,284.71 L330.78,284.69 L332.12,284.67 L333.46,284.66 L334.80,284.65" fill="none" stroke="#d42a7e" stroke-width="1.6"/>
<circle cx="227.53" cy="311.42" r="2.00" fill="#d42a7e"/>
<path d="M239.45,309.20V313.07M237.95,309.20H240.95M237.95,313.07H240.95" stroke="#d42a7e" stroke-width="1.0" fill="none"/>
<circle cx="239.45" cy="311.14" r="2.00" fill="#d42a7e"/>
<circle cx="251.37" cy="310.17" r="2.00" fill="#d42a7e"/>
<circle cx="263.29" cy="307.25" r="2.00" fill="#d42a7e"/>
<circle cx="275.21" cy="300.73" r="2.00" fill="#d42a7e"/>
<path d="M287.13,289.36V295.81M285.63,289.36H288.63M285.63,295.81H288.63" stroke="#d42a7e" stroke-width="1.0" fill="none"/>
<circle cx="287.13" cy="292.58" r="2.00" fill="#d42a7e"/>
<circle cx="299.05" cy="287.45" r="2.00" fill="#d42a7e"/>
<circle cx="310.96" cy="285.46" r="2.00" fill="#d42a7e"/>
<circle cx="322.88" cy="284.83" r="2.00" fill="#d42a7e"/>
<circle cx="334.80" cy="284.65" r="2.00" fill="#d42a7e"/>
<path d="M227.53,311.10 L228.88,311.02 L230.22,310.92 L231.56,310.81 L232.90,310.69 L234.24,310.55 L235.58,310.40 L236.92,310.23 L238.26,310.04 L239.60,309.83 L240.94,309.59 L242.28,309.33 L243.62,309.05 L244.97,308.73 L246.31,308.37 L247.65,307.99 L248.99,307.56 L250.33,307.09 L251.67,306.59 L253.01,306.03 L254.35,305.43 L255.69,304.79 L257.03,304.09 L258.37,303.35 L259.71,302.56 L261.06,301.73 L262.40,300.85 L263.74,299.94 L265.08,298.99 L266.42,298.01 L267.76,297.00 L269.10,295.98 L270.44,294.95 L271.78,293.91 L273.12,292.88 L274.46,291.86 L275.80,290.86 L277.15,289.88 L278.49,288.94 L279.83,288.03 L281.17,287.16 L282.51,286.33 L283.85,285.55 L285.19,284.81 L286.53,284.13 L287.87,283.49 L289.21,282.90 L290.55,282.35 L291.89,281.85 L293.24,281.39 L294.58,280.97 L295.92,280.59 L297.26,280.24 L298.60,279.93 L299.94,279.64 L301.28,279.39 L302.62,279.16 L303.96,278.95 L305.30,278.76 L306.64,278.60 L307.98,278.45 L309.33,278.31 L310.67,278.19 L312.01,278.09 L313.35,277.99 L314.69,277.91 L316.03,277.83 L317.37,277.76 L318.71,277.70 L320.05,277.65 L321.39,277.60 L322.73,277.56 L324.07,277.52 L325.42,277.49 L326.76,277.46 L328.10,277.43 L329.44,277.41 L330.78,277.39 L332.12,277.37 L333.46,277.35 L334.80,277.34" fill="none" stroke="#18743f" stroke-width="1.6"/>
<path d="M227.53,306.25V311.41M226.03,306.25H229.03M226.03,311.41H229.03" stroke="#18743f" stroke-width="1.0" fill="none"/>
<path d="M225.23,307.03L229.83,307.03L227.53,311.03Z" fill="#18743f"/>
<path d="M239.45,309.47V313.34M237.95,309.47H240.95M237.95,313.34H240.95" stroke="#18743f" stroke-width="1.0" fill="none"/>
<path d="M237.15,309.61L241.75,309.61L239.45,313.61Z" fill="#18743f"/>
<path d="M251.37,304.31V309.47M249.87,304.31H252.87M249.87,309.47H252.87" stroke="#18743f" stroke-width="1.0" fill="none"/>
<path d="M249.07,305.09L253.67,305.09L251.37,309.09Z" fill="#18743f"/>
<path d="M263.29,295.28V303.02M261.79,295.28H264.79M261.79,303.02H264.79" stroke="#18743f" stroke-width="1.0" fill="none"/>
<path d="M260.99,297.35L265.59,297.35L263.29,301.35Z" fill="#18743f"/>
<path d="M275.21,286.90V292.06M273.71,286.90H276.71M273.71,292.06H276.71" stroke="#18743f" stroke-width="1.0" fill="none"/>
<path d="M272.91,287.68L277.51,287.68L275.21,291.68Z" fill="#18743f"/>
<path d="M287.13,280.45V284.32M285.63,280.45H288.63M285.63,284.32H288.63" stroke="#18743f" stroke-width="1.0" fill="none"/>
<path d="M284.83,280.58L289.43,280.58L287.13,284.58Z" fill="#18743f"/>
<path d="M299.05,277.87V280.45M297.55,277.87H300.55M297.55,280.45H300.55" stroke="#18743f" stroke-width="1.0" fill="none"/>
<path d="M296.75,277.36L301.35,277.36L299.05,281.36Z" fill="#18743f"/>
<path d="M308.66,276.07L313.26,276.07L310.96,280.07Z" fill="#18743f"/>
<path d="M322.88,275.29V277.87M321.38,275.29H324.38M321.38,277.87H324.38" stroke="#18743f" stroke-width="1.0" fill="none"/>
<path d="M320.58,274.78L325.18,274.78L322.88,278.78Z" fill="#18743f"/>
<path d="M332.50,276.07L337.10,276.07L334.80,280.07Z" fill="#18743f"/>
<text x="354.60" y="233.80" font-size="13.2" text-anchor="start" font-weight="bold">F</text>
<text x="406.90" y="247.40" font-size="8.1" text-anchor="start" textLength="49.7" lengthAdjust="spacingAndGlyphs" >DR5 Crispr KO</text>
<text x="0" y="0" font-size="7" text-anchor="middle" textLength="82.6" lengthAdjust="spacingAndGlyphs" transform="translate(360.00,286.80) rotate(-90)">Cell viability (% inhibition)</text>
<line x1="381.2" y1="247.10" x2="381.2" y2="325.70" stroke="#2b2b7a" stroke-width="1.65"/>
<line x1="377.60" y1="324.90" x2="381.2" y2="324.90" stroke="#2b2b7a" stroke-width="1.2"/>
<text x="376.90" y="327.70" font-size="6.8" text-anchor="end" style="stroke-width:0.12px">&#8722;20</text>
<line x1="377.60" y1="312.70" x2="381.2" y2="312.70" stroke="#2b2b7a" stroke-width="1.2"/>
<text x="376.90" y="315.50" font-size="6.8" text-anchor="end" style="stroke-width:0.12px">0</text>
<line x1="377.60" y1="299.72" x2="381.2" y2="299.72" stroke="#2b2b7a" stroke-width="1.2"/>
<text x="376.90" y="302.52" font-size="6.8" text-anchor="end" style="stroke-width:0.12px">20</text>
<line x1="377.60" y1="286.74" x2="381.2" y2="286.74" stroke="#2b2b7a" stroke-width="1.2"/>
<text x="376.90" y="289.54" font-size="6.8" text-anchor="end" style="stroke-width:0.12px">40</text>
<line x1="377.60" y1="273.76" x2="381.2" y2="273.76" stroke="#2b2b7a" stroke-width="1.2"/>
<text x="376.90" y="276.56" font-size="6.8" text-anchor="end" style="stroke-width:0.12px">60</text>
<line x1="377.60" y1="260.78" x2="381.2" y2="260.78" stroke="#2b2b7a" stroke-width="1.2"/>
<text x="376.90" y="263.58" font-size="6.8" text-anchor="end" style="stroke-width:0.12px">80</text>
<line x1="377.60" y1="247.80" x2="381.2" y2="247.80" stroke="#2b2b7a" stroke-width="1.2"/>
<text x="376.90" y="250.60" font-size="6.8" text-anchor="end" style="stroke-width:0.12px">100</text>
<line x1="392.90" y1="339.0" x2="517.70" y2="339.0" stroke="#2b2b7a" stroke-width="2.0"/>
<line x1="400.94" y1="339.0" x2="400.94" y2="341.30" stroke="#2b2b7a" stroke-width="1.0"/>
<line x1="405.29" y1="339.0" x2="405.29" y2="341.30" stroke="#2b2b7a" stroke-width="1.0"/>
<line x1="408.38" y1="339.0" x2="408.38" y2="341.30" stroke="#2b2b7a" stroke-width="1.0"/>
<line x1="410.78" y1="339.0" x2="410.78" y2="341.30" stroke="#2b2b7a" stroke-width="1.0"/>
<line x1="412.74" y1="339.0" x2="412.74" y2="341.30" stroke="#2b2b7a" stroke-width="1.0"/>
<line x1="414.39" y1="339.0" x2="414.39" y2="341.30" stroke="#2b2b7a" stroke-width="1.0"/>
<line x1="415.82" y1="339.0" x2="415.82" y2="341.30" stroke="#2b2b7a" stroke-width="1.0"/>
<line x1="417.09" y1="339.0" x2="417.09" y2="341.30" stroke="#2b2b7a" stroke-width="1.0"/>
<line x1="425.66" y1="339.0" x2="425.66" y2="341.30" stroke="#2b2b7a" stroke-width="1.0"/>
<line x1="430.01" y1="339.0" x2="430.01" y2="341.30" stroke="#2b2b7a" stroke-width="1.0"/>
<line x1="433.10" y1="339.0" x2="433.10" y2="341.30" stroke="#2b2b7a" stroke-width="1.0"/>
<line x1="435.50" y1="339.0" x2="435.50" y2="341.30" stroke="#2b2b7a" stroke-width="1.0"/>
<line x1="437.46" y1="339.0" x2="437.46" y2="341.30" stroke="#2b2b7a" stroke-width="1.0"/>
<line x1="439.11" y1="339.0" x2="439.11" y2="341.30" stroke="#2b2b7a" stroke-width="1.0"/>
<line x1="440.54" y1="339.0" x2="440.54" y2="341.30" stroke="#2b2b7a" stroke-width="1.0"/>
<line x1="441.81" y1="339.0" x2="441.81" y2="341.30" stroke="#2b2b7a" stroke-width="1.0"/>
<line x1="450.38" y1="339.0" x2="450.38" y2="341.30" stroke="#2b2b7a" stroke-width="1.0"/>
<line x1="454.73" y1="339.0" x2="454.73" y2="341.30" stroke="#2b2b7a" stroke-width="1.0"/>
<line x1="457.82" y1="339.0" x2="457.82" y2="341.30" stroke="#2b2b7a" stroke-width="1.0"/>
<line x1="460.22" y1="339.0" x2="460.22" y2="341.30" stroke="#2b2b7a" stroke-width="1.0"/>
<line x1="462.18" y1="339.0" x2="462.18" y2="341.30" stroke="#2b2b7a" stroke-width="1.0"/>
<line x1="463.83" y1="339.0" x2="463.83" y2="341.30" stroke="#2b2b7a" stroke-width="1.0"/>
<line x1="465.26" y1="339.0" x2="465.26" y2="341.30" stroke="#2b2b7a" stroke-width="1.0"/>
<line x1="466.53" y1="339.0" x2="466.53" y2="341.30" stroke="#2b2b7a" stroke-width="1.0"/>
<line x1="475.10" y1="339.0" x2="475.10" y2="341.30" stroke="#2b2b7a" stroke-width="1.0"/>
<line x1="479.45" y1="339.0" x2="479.45" y2="341.30" stroke="#2b2b7a" stroke-width="1.0"/>
<line x1="482.54" y1="339.0" x2="482.54" y2="341.30" stroke="#2b2b7a" stroke-width="1.0"/>
<line x1="484.94" y1="339.0" x2="484.94" y2="341.30" stroke="#2b2b7a" stroke-width="1.0"/>
<line x1="486.90" y1="339.0" x2="486.90" y2="341.30" stroke="#2b2b7a" stroke-width="1.0"/>
<line x1="488.55" y1="339.0" x2="488.55" y2="341.30" stroke="#2b2b7a" stroke-width="1.0"/>
<line x1="489.98" y1="339.0" x2="489.98" y2="341.30" stroke="#2b2b7a" stroke-width="1.0"/>
<line x1="491.25" y1="339.0" x2="491.25" y2="341.30" stroke="#2b2b7a" stroke-width="1.0"/>
<line x1="499.82" y1="339.0" x2="499.82" y2="341.30" stroke="#2b2b7a" stroke-width="1.0"/>
<line x1="504.17" y1="339.0" x2="504.17" y2="341.30" stroke="#2b2b7a" stroke-width="1.0"/>
<line x1="507.26" y1="339.0" x2="507.26" y2="341.30" stroke="#2b2b7a" stroke-width="1.0"/>
<line x1="509.66" y1="339.0" x2="509.66" y2="341.30" stroke="#2b2b7a" stroke-width="1.0"/>
<line x1="511.62" y1="339.0" x2="511.62" y2="341.30" stroke="#2b2b7a" stroke-width="1.0"/>
<line x1="513.27" y1="339.0" x2="513.27" y2="341.30" stroke="#2b2b7a" stroke-width="1.0"/>
<line x1="514.70" y1="339.0" x2="514.70" y2="341.30" stroke="#2b2b7a" stroke-width="1.0"/>
<line x1="515.97" y1="339.0" x2="515.97" y2="341.30" stroke="#2b2b7a" stroke-width="1.0"/>
<line x1="393.50" y1="339.0" x2="393.50" y2="342.40" stroke="#2b2b7a" stroke-width="1.4"/>
<text x="392.30" y="348.80" font-size="7.0" text-anchor="middle" style="stroke-width:0.12px">&#8722;3</text>
<line x1="418.22" y1="339.0" x2="418.22" y2="342.40" stroke="#2b2b7a" stroke-width="1.4"/>
<text x="417.02" y="348.80" font-size="7.0" text-anchor="middle" style="stroke-width:0.12px">&#8722;2</text>
<line x1="442.94" y1="339.0" x2="442.94" y2="342.40" stroke="#2b2b7a" stroke-width="1.4"/>
<text x="441.74" y="348.80" font-size="7.0" text-anchor="middle" style="stroke-width:0.12px">&#8722;1</text>
<line x1="467.66" y1="339.0" x2="467.66" y2="342.40" stroke="#2b2b7a" stroke-width="1.4"/>
<text x="467.66" y="348.80" font-size="7.0" text-anchor="middle" style="stroke-width:0.12px">0</text>
<line x1="492.38" y1="339.0" x2="492.38" y2="342.40" stroke="#2b2b7a" stroke-width="1.4"/>
<text x="492.38" y="348.80" font-size="7.0" text-anchor="middle" style="stroke-width:0.12px">1</text>
<line x1="517.10" y1="339.0" x2="517.10" y2="342.40" stroke="#2b2b7a" stroke-width="1.4"/>
<text x="517.10" y="348.80" font-size="7.0" text-anchor="middle" style="stroke-width:0.12px">2</text>
<text x="434.10" y="359.50" font-size="7.5" text-anchor="start" textLength="45.8" lengthAdjust="spacingAndGlyphs" >Log (nmol/L)</text>
<line x1="381.90" y1="312.70" x2="517.10" y2="312.70" stroke="#111" stroke-width="1.0" stroke-dasharray="1.2,1.0"/>
<path d="M406.60,316.51 L407.92,316.51 L409.25,316.51 L410.58,316.51 L411.90,316.51 L413.23,316.51 L414.56,316.51 L415.89,316.51 L417.21,316.51 L418.54,316.51 L419.87,316.51 L421.19,316.51 L422.52,316.51 L423.85,316.51 L425.17,316.51 L426.50,316.51 L427.83,316.51 L429.15,316.51 L430.48,316.51 L431.81,316.51 L433.13,316.51 L434.46,316.51 L435.79,316.51 L437.12,316.51 L438.44,316.51 L439.77,316.51 L441.10,316.51 L442.42,316.51 L443.75,316.51 L445.08,316.51 L446.40,316.51 L447.73,316.51 L449.06,316.51 L450.38,316.51 L451.71,316.51 L453.04,316.51 L454.36,316.51 L455.69,316.51 L457.02,316.51 L458.35,316.51 L459.67,316.51 L461.00,316.51 L462.33,316.51 L463.65,316.51 L464.98,316.51 L466.31,316.51 L467.63,316.51 L468.96,316.51 L470.29,316.51 L471.61,316.51 L472.94,316.51 L474.27,316.51 L475.59,316.51 L476.92,316.51 L478.25,316.51 L479.58,316.51 L480.90,316.51 L482.23,316.51 L483.56,316.51 L484.88,316.51 L486.21,316.51 L487.54,316.51 L488.86,316.51 L490.19,316.51 L491.52,316.51 L492.84,316.51 L494.17,316.51 L495.50,316.51 L496.82,316.51 L498.15,316.51 L499.48,316.51 L500.81,316.51 L502.13,316.51 L503.46,316.51 L504.79,316.51 L506.11,316.51 L507.44,316.51 L508.77,316.51 L510.09,316.51 L511.42,316.51 L512.75,316.51" fill="none" stroke="#ef8a2a" stroke-width="1.6"/>
<rect x="404.60" y="314.12" width="4.00" height="4.00" fill="#ef8a2a"/>
<rect x="416.39" y="314.12" width="4.00" height="4.00" fill="#ef8a2a"/>
<path d="M430.19,312.90V316.77M428.69,312.90H431.69M428.69,316.77H431.69" stroke="#ef8a2a" stroke-width="1.0" fill="none"/>
<rect x="428.19" y="312.83" width="4.00" height="4.00" fill="#ef8a2a"/>
<path d="M441.98,308.38V313.54M440.48,308.38H443.48M440.48,313.54H443.48" stroke="#ef8a2a" stroke-width="1.0" fill="none"/>
<rect x="439.98" y="308.96" width="4.00" height="4.00" fill="#ef8a2a"/>
<rect x="451.77" y="311.54" width="4.00" height="4.00" fill="#ef8a2a"/>
<path d="M465.57,314.19V318.06M464.07,314.19H467.07M464.07,318.06H467.07" stroke="#ef8a2a" stroke-width="1.0" fill="none"/>
<rect x="463.57" y="314.12" width="4.00" height="4.00" fill="#ef8a2a"/>
<rect x="475.36" y="314.77" width="4.00" height="4.00" fill="#ef8a2a"/>
<path d="M489.16,307.09V313.55M487.66,307.09H490.66M487.66,313.55H490.66" stroke="#ef8a2a" stroke-width="1.0" fill="none"/>
<rect x="487.16" y="308.32" width="4.00" height="4.00" fill="#ef8a2a"/>
<rect x="498.95" y="312.19" width="4.00" height="4.00" fill="#ef8a2a"/>
<path d="M512.75,314.83V319.99M511.25,314.83H514.25M511.25,319.99H514.25" stroke="#ef8a2a" stroke-width="1.0" fill="none"/>
<rect x="510.75" y="315.41" width="4.00" height="4.00" fill="#ef8a2a"/>
<path d="M406.60,315.28 L407.92,315.28 L409.25,315.28 L410.58,315.28 L411.90,315.28 L413.23,315.28 L414.56,315.28 L415.89,315.28 L417.21,315.27 L418.54,315.27 L419.87,315.27 L421.19,315.27 L422.52,315.26 L423.85,315.26 L425.17,315.25 L426.50,315.25 L427.83,315.24 L429.15,315.24 L430.48,315.23 L431.81,315.22 L433.13,315.21 L434.46,315.20 L435.79,315.18 L437.12,315.17 L438.44,315.15 L439.77,315.13 L441.10,315.10 L442.42,315.07 L443.75,315.04 L445.08,315.00 L446.40,314.96 L447.73,314.90 L449.06,314.84 L450.38,314.77 L451.71,314.69 L453.04,314.60 L454.36,314.49 L455.69,314.37 L457.02,314.23 L458.35,314.07 L459.67,313.88 L461.00,313.66 L462.33,313.41 L463.65,313.13 L464.98,312.81 L466.31,312.44 L467.63,312.02 L468.96,311.54 L470.29,311.00 L471.61,310.39 L472.94,309.71 L474.27,308.94 L475.59,308.09 L476.92,307.14 L478.25,306.10 L479.58,304.96 L480.90,303.73 L482.23,302.39 L483.56,300.96 L484.88,299.45 L486.21,297.86 L487.54,296.21 L488.86,294.51 L490.19,292.77 L491.52,291.03 L492.84,289.29 L494.17,287.57 L495.50,285.89 L496.82,284.27 L498.15,282.73 L499.48,281.26 L500.81,279.88 L502.13,278.60 L503.46,277.42 L504.79,276.34 L506.11,275.35 L507.44,274.46 L508.77,273.65 L510.09,272.93 L511.42,272.29 L512.75,271.72" fill="none" stroke="#18743f" stroke-width="1.6"/>
<path d="M404.30,313.03L408.90,313.03L406.60,317.03Z" fill="#18743f"/>
<path d="M416.09,318.84L420.69,318.84L418.39,322.84Z" fill="#18743f"/>
<path d="M427.89,309.16L432.49,309.16L430.19,313.16Z" fill="#18743f"/>
<path d="M441.98,307.74V311.61M440.48,307.74H443.48M440.48,311.61H443.48" stroke="#18743f" stroke-width="1.0" fill="none"/>
<path d="M439.68,307.87L444.28,307.87L441.98,311.87Z" fill="#18743f"/>
<path d="M451.47,309.16L456.07,309.16L453.77,313.16Z" fill="#18743f"/>
<path d="M463.27,318.84L467.87,318.84L465.57,322.84Z" fill="#18743f"/>
<path d="M477.36,304.51V308.38M475.86,304.51H478.86M475.86,308.38H478.86" stroke="#18743f" stroke-width="1.0" fill="none"/>
<path d="M475.06,304.65L479.66,304.65L477.36,308.65Z" fill="#18743f"/>
<path d="M489.16,292.90V296.77M487.66,292.90H490.66M487.66,296.77H490.66" stroke="#18743f" stroke-width="1.0" fill="none"/>
<path d="M486.86,293.04L491.46,293.04L489.16,297.04Z" fill="#18743f"/>
<path d="M500.95,277.42V281.29M499.45,277.42H502.45M499.45,281.29H502.45" stroke="#18743f" stroke-width="1.0" fill="none"/>
<path d="M498.65,277.56L503.25,277.56L500.95,281.56Z" fill="#18743f"/>
<path d="M512.75,270.33V274.20M511.25,270.33H514.25M511.25,274.20H514.25" stroke="#18743f" stroke-width="1.0" fill="none"/>
<path d="M510.45,270.46L515.05,270.46L512.75,274.46Z" fill="#18743f"/>
<path d="M406.60,318.86 L407.92,318.86 L409.25,318.86 L410.58,318.86 L411.90,318.86 L413.23,318.86 L414.56,318.86 L415.89,318.86 L417.21,318.86 L418.54,318.86 L419.87,318.86 L421.19,318.85 L422.52,318.85 L423.85,318.85 L425.17,318.84 L426.50,318.84 L427.83,318.83 L429.15,318.82 L430.48,318.82 L431.81,318.81 L433.13,318.79 L434.46,318.78 L435.79,318.76 L437.12,318.74 L438.44,318.71 L439.77,318.68 L441.10,318.64 L442.42,318.59 L443.75,318.53 L445.08,318.46 L446.40,318.38 L447.73,318.27 L449.06,318.15 L450.38,318.00 L451.71,317.82 L453.04,317.61 L454.36,317.35 L455.69,317.05 L457.02,316.68 L458.35,316.24 L459.67,315.72 L461.00,315.10 L462.33,314.36 L463.65,313.50 L464.98,312.49 L466.31,311.32 L467.63,309.97 L468.96,308.42 L470.29,306.66 L471.61,304.69 L472.94,302.51 L474.27,300.13 L475.59,297.56 L476.92,294.84 L478.25,292.00 L479.58,289.10 L480.90,286.17 L482.23,283.28 L483.56,280.48 L484.88,277.81 L486.21,275.30 L487.54,272.98 L488.86,270.87 L490.19,268.97 L491.52,267.28 L492.84,265.80 L494.17,264.51 L495.50,263.39 L496.82,262.43 L498.15,261.61 L499.48,260.92 L500.81,260.33 L502.13,259.84 L503.46,259.43 L504.79,259.08 L506.11,258.79 L507.44,258.55 L508.77,258.35 L510.09,258.18 L511.42,258.04 L512.75,257.92" fill="none" stroke="#d42a7e" stroke-width="1.6"/>
<circle cx="406.60" cy="322.57" r="2.00" fill="#d42a7e"/>
<circle cx="418.39" cy="321.28" r="2.00" fill="#d42a7e"/>
<circle cx="430.19" cy="321.93" r="2.00" fill="#d42a7e"/>
<circle cx="441.98" cy="320.64" r="2.00" fill="#d42a7e"/>
<path d="M453.77,315.48V320.64M452.27,315.48H455.27M452.27,320.64H455.27" stroke="#d42a7e" stroke-width="1.0" fill="none"/>
<circle cx="453.77" cy="318.06" r="2.00" fill="#d42a7e"/>
<path d="M465.57,301.29V307.74M464.07,301.29H467.07M464.07,307.74H467.07" stroke="#d42a7e" stroke-width="1.0" fill="none"/>
<circle cx="465.57" cy="304.51" r="2.00" fill="#d42a7e"/>
<circle cx="477.36" cy="301.29" r="2.00" fill="#d42a7e"/>
<path d="M489.16,262.59V269.04M487.66,262.59H490.66M487.66,269.04H490.66" stroke="#d42a7e" stroke-width="1.0" fill="none"/>
<circle cx="489.16" cy="265.81" r="2.00" fill="#d42a7e"/>
<circle cx="500.95" cy="258.72" r="2.00" fill="#d42a7e"/>
<circle cx="512.75" cy="257.43" r="2.00" fill="#d42a7e"/>
<path d="M406.60,312.63 L407.92,312.51 L409.25,312.39 L410.58,312.25 L411.90,312.09 L413.23,311.93 L414.56,311.75 L415.89,311.55 L417.21,311.33 L418.54,311.10 L419.87,310.84 L421.19,310.57 L422.52,310.27 L423.85,309.94 L425.17,309.59 L426.50,309.20 L427.83,308.79 L429.15,308.34 L430.48,307.86 L431.81,307.34 L433.13,306.79 L434.46,306.19 L435.79,305.55 L437.12,304.87 L438.44,304.14 L439.77,303.36 L441.10,302.54 L442.42,301.67 L443.75,300.75 L445.08,299.79 L446.40,298.77 L447.73,297.71 L449.06,296.61 L450.38,295.46 L451.71,294.27 L453.04,293.05 L454.36,291.79 L455.69,290.50 L457.02,289.19 L458.35,287.86 L459.67,286.52 L461.00,285.17 L462.33,283.82 L463.65,282.47 L464.98,281.13 L466.31,279.81 L467.63,278.50 L468.96,277.22 L470.29,275.98 L471.61,274.76 L472.94,273.58 L474.27,272.45 L475.59,271.35 L476.92,270.31 L478.25,269.31 L479.58,268.35 L480.90,267.45 L482.23,266.59 L483.56,265.78 L484.88,265.02 L486.21,264.30 L487.54,263.63 L488.86,263.00 L490.19,262.42 L491.52,261.87 L492.84,261.36 L494.17,260.89 L495.50,260.46 L496.82,260.05 L498.15,259.68 L499.48,259.33 L500.81,259.01 L502.13,258.72 L503.46,258.45 L504.79,258.20 L506.11,257.97 L507.44,257.76 L508.77,257.56 L510.09,257.39 L511.42,257.22 L512.75,257.08" fill="none" stroke="#2d3c87" stroke-width="1.6"/>
<path d="M406.60,309.21L409.00,311.61L406.60,314.01L404.20,311.61Z" fill="#2d3c87"/>
<path d="M418.39,308.73L420.79,311.13L418.39,313.53L415.99,311.13Z" fill="#2d3c87"/>
<path d="M430.19,308.56L432.59,310.96L430.19,313.36L427.79,310.96Z" fill="#2d3c87"/>
<path d="M441.98,311.79L444.38,314.19L441.98,316.59L439.58,314.19Z" fill="#2d3c87"/>
<path d="M453.77,289.95L456.17,292.35L453.77,294.75L451.37,292.35Z" fill="#2d3c87"/>
<path d="M465.57,278.14L467.97,280.54L465.57,282.94L463.17,280.54Z" fill="#2d3c87"/>
<path d="M477.36,267.57L479.76,269.97L477.36,272.37L474.96,269.97Z" fill="#2d3c87"/>
<path d="M489.16,260.47L491.56,262.87L489.16,265.27L486.76,262.87Z" fill="#2d3c87"/>
<path d="M500.95,256.58L503.35,258.98L500.95,261.38L498.55,258.98Z" fill="#2d3c87"/>
<path d="M512.75,254.68L515.15,257.08L512.75,259.48L510.35,257.08Z" fill="#2d3c87"/>
</svg></body></html>
